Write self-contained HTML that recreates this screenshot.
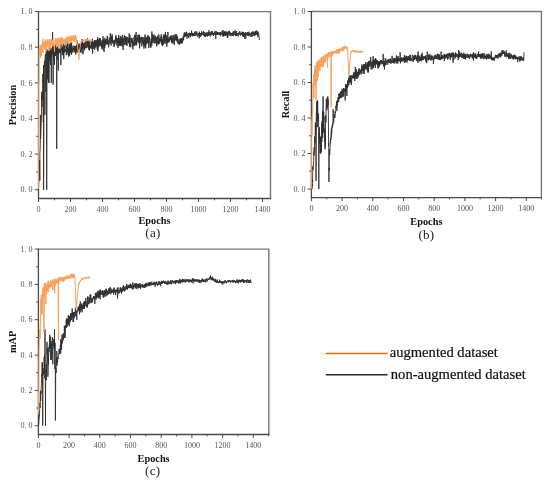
<!DOCTYPE html>
<html><head><meta charset="utf-8"><title>Training curves</title>
<style>
html,body{margin:0;padding:0;background:#fff;}
svg{display:block;filter:blur(0.4px);}
text{font-family:"Liberation Serif","DejaVu Serif",serif;}
.yt{font-size:8px;fill:#555;text-anchor:end;}
.xt{font-size:8px;fill:#555;text-anchor:middle;}
.ttl{font-size:10.3px;font-weight:bold;fill:#111;}
.lt{font-size:13px;fill:#222;letter-spacing:0.3px;}
.lg{font-size:14.6px;fill:#111;stroke:#111;stroke-width:0.2px;}
</style></head>
<body>
<svg width="550" height="482" viewBox="0 0 550 482">
<rect width="550" height="482" fill="#fff"/>
<path d="M38.5,11.6H270.5V198.5" fill="none" stroke="#787878" stroke-width="1.4"/>
<path d="M38.5,11.0V198.5H271.1" fill="none" stroke="#4a4a4a" stroke-width="1.3"/>
<line x1="34.8" y1="189.8" x2="38.5" y2="189.8" stroke="#4a4a4a" stroke-width="1"/>
<text x="32.6" y="192.4" class="yt">0. 0</text>
<line x1="36.3" y1="171.9" x2="38.5" y2="171.9" stroke="#4a4a4a" stroke-width="1"/>
<line x1="34.8" y1="154.1" x2="38.5" y2="154.1" stroke="#4a4a4a" stroke-width="1"/>
<text x="32.6" y="156.8" class="yt">0. 2</text>
<line x1="36.3" y1="136.3" x2="38.5" y2="136.3" stroke="#4a4a4a" stroke-width="1"/>
<line x1="34.8" y1="118.5" x2="38.5" y2="118.5" stroke="#4a4a4a" stroke-width="1"/>
<text x="32.6" y="121.1" class="yt">0. 4</text>
<line x1="36.3" y1="100.7" x2="38.5" y2="100.7" stroke="#4a4a4a" stroke-width="1"/>
<line x1="34.8" y1="82.9" x2="38.5" y2="82.9" stroke="#4a4a4a" stroke-width="1"/>
<text x="32.6" y="85.5" class="yt">0. 6</text>
<line x1="36.3" y1="65.0" x2="38.5" y2="65.0" stroke="#4a4a4a" stroke-width="1"/>
<line x1="34.8" y1="47.2" x2="38.5" y2="47.2" stroke="#4a4a4a" stroke-width="1"/>
<text x="32.6" y="49.9" class="yt">0. 8</text>
<line x1="36.3" y1="29.4" x2="38.5" y2="29.4" stroke="#4a4a4a" stroke-width="1"/>
<line x1="34.8" y1="11.6" x2="38.5" y2="11.6" stroke="#4a4a4a" stroke-width="1"/>
<text x="32.6" y="14.2" class="yt">1. 0</text>
<line x1="38.5" y1="198.5" x2="38.5" y2="202.0" stroke="#4a4a4a" stroke-width="1"/>
<text x="38.5" y="211.7" class="xt">0</text>
<line x1="54.5" y1="198.5" x2="54.5" y2="200.3" stroke="#4a4a4a" stroke-width="1"/>
<line x1="70.5" y1="198.5" x2="70.5" y2="202.0" stroke="#4a4a4a" stroke-width="1"/>
<text x="70.5" y="211.7" class="xt">200</text>
<line x1="86.5" y1="198.5" x2="86.5" y2="200.3" stroke="#4a4a4a" stroke-width="1"/>
<line x1="102.5" y1="198.5" x2="102.5" y2="202.0" stroke="#4a4a4a" stroke-width="1"/>
<text x="102.5" y="211.7" class="xt">400</text>
<line x1="118.5" y1="198.5" x2="118.5" y2="200.3" stroke="#4a4a4a" stroke-width="1"/>
<line x1="134.5" y1="198.5" x2="134.5" y2="202.0" stroke="#4a4a4a" stroke-width="1"/>
<text x="134.5" y="211.7" class="xt">600</text>
<line x1="150.5" y1="198.5" x2="150.5" y2="200.3" stroke="#4a4a4a" stroke-width="1"/>
<line x1="166.5" y1="198.5" x2="166.5" y2="202.0" stroke="#4a4a4a" stroke-width="1"/>
<text x="166.5" y="211.7" class="xt">800</text>
<line x1="182.5" y1="198.5" x2="182.5" y2="200.3" stroke="#4a4a4a" stroke-width="1"/>
<line x1="198.5" y1="198.5" x2="198.5" y2="202.0" stroke="#4a4a4a" stroke-width="1"/>
<text x="198.5" y="211.7" class="xt">1000</text>
<line x1="214.5" y1="198.5" x2="214.5" y2="200.3" stroke="#4a4a4a" stroke-width="1"/>
<line x1="230.5" y1="198.5" x2="230.5" y2="202.0" stroke="#4a4a4a" stroke-width="1"/>
<text x="230.5" y="211.7" class="xt">1200</text>
<line x1="246.5" y1="198.5" x2="246.5" y2="200.3" stroke="#4a4a4a" stroke-width="1"/>
<line x1="262.5" y1="198.5" x2="262.5" y2="202.0" stroke="#4a4a4a" stroke-width="1"/>
<text x="262.5" y="211.7" class="xt">1400</text>
<text x="154.5" y="224.2" class="ttl" text-anchor="middle">Epochs</text>
<text x="153.0" y="237.4" class="lt" text-anchor="middle">(a)</text>
<text transform="translate(16.0,105.0) rotate(-90)" class="ttl" text-anchor="middle">Precision</text>
<polyline fill="none" stroke="#2f2f2f" stroke-width="0.9" stroke-linejoin="round" points="38.5,188.9 38.7,184.0 38.8,180.6 39.0,179.2 39.1,170.5 39.3,167.6 39.5,165.8 39.6,160.2 39.8,180.8 39.9,153.4 40.1,150.5 40.3,145.7 40.4,114.9 40.6,139.1 40.7,135.7 40.9,129.9 41.1,126.8 41.2,123.3 41.4,120.6 41.5,115.1 41.7,91.8 41.9,107.0 42.0,100.2 42.2,96.8 42.3,99.5 42.5,97.2 42.7,89.7 42.8,74.0 43.0,82.3 43.1,80.1 43.3,122.1 43.5,65.0 43.6,189.8 43.8,136.3 43.9,67.5 44.1,65.9 44.3,66.7 44.4,61.5 44.6,62.0 44.7,60.6 44.9,114.9 45.1,59.5 45.2,56.4 45.4,54.4 45.5,55.9 45.7,54.8 45.9,91.8 46.0,57.4 46.2,52.2 46.3,50.7 46.5,50.8 46.7,189.8 46.8,145.2 47.0,55.1 47.1,49.4 47.3,56.7 47.5,79.3 47.6,52.6 47.8,57.2 47.9,53.6 48.1,50.8 48.3,51.2 48.4,82.9 48.6,56.4 48.7,51.4 48.9,82.9 49.1,79.3 49.2,49.1 49.4,60.4 49.5,50.9 49.7,47.1 49.9,52.9 50.0,54.8 50.2,48.8 50.3,50.6 50.5,65.0 50.7,52.8 50.8,57.1 51.0,51.8 51.1,53.0 51.3,82.9 51.5,50.5 51.6,57.3 51.8,55.6 51.9,47.8 52.1,48.5 52.3,54.2 52.4,50.9 52.6,32.1 52.7,49.1 52.9,47.5 53.1,84.6 53.2,79.3 53.4,52.0 53.5,45.4 53.7,60.7 53.9,51.4 54.0,50.5 54.2,57.7 54.3,49.4 54.5,65.0 54.7,47.4 54.8,51.1 55.0,48.0 55.1,44.4 55.3,48.6 55.5,53.6 55.6,56.0 55.8,41.7 55.9,50.8 56.1,53.7 56.3,49.8 56.4,51.0 56.6,47.2 56.7,148.8 56.9,50.2 57.1,53.7 57.2,48.5 57.4,53.9 57.5,47.7 57.7,44.6 57.9,55.6 58.0,59.8 58.2,47.8 58.3,70.4 58.5,53.6 58.7,54.5 58.8,47.9 59.0,52.9 59.1,51.7 59.3,51.1 59.5,48.0 59.6,51.3 59.8,48.9 59.9,50.5 60.1,52.8 60.3,51.0 60.4,53.2 60.6,49.8 60.7,53.8 60.9,65.0 61.1,42.8 61.2,49.9 61.4,49.9 61.5,47.9 61.7,51.2 61.9,50.5 62.0,48.2 62.2,48.7 62.3,55.2 62.5,46.7 62.7,51.7 62.8,53.4 63.0,52.8 63.1,51.0 63.3,43.8 63.5,55.2 63.6,49.0 63.8,59.1 63.9,49.5 64.1,46.3 64.3,50.3 64.4,52.5 64.6,48.7 64.7,47.0 64.9,47.1 65.1,42.5 65.2,48.7 65.4,51.5 65.5,49.9 65.7,49.7 65.9,49.0 66.0,49.5 66.2,48.7 66.3,55.2 66.5,46.4 66.7,51.3 66.8,53.4 67.0,47.0 67.1,43.0 67.3,47.5 67.5,48.5 67.6,52.5 67.8,42.2 67.9,45.0 68.1,54.6 68.3,51.9 68.4,48.8 68.6,56.6 68.7,48.6 68.9,50.8 69.1,44.8 69.2,44.5 69.4,56.1 69.5,48.9 69.7,54.8 69.9,43.8 70.0,48.3 70.2,47.1 70.3,52.8 70.5,42.6 70.7,41.9 70.8,52.7 71.0,47.1 71.1,51.2 71.3,48.9 71.5,54.7 71.6,42.1 71.8,53.2 71.9,50.0 72.1,46.2 72.3,50.8 72.4,49.3 72.6,51.1 72.7,48.9 72.9,52.4 73.1,49.8 73.2,49.0 73.4,49.4 73.5,48.0 73.7,49.1 73.9,45.4 74.0,49.2 74.2,48.5 74.3,50.3 74.5,50.4 74.7,52.3 74.8,46.0 75.0,51.8 75.1,50.3 75.3,46.4 75.5,46.2 75.6,49.0 75.8,54.5 75.9,46.0 76.1,46.5 76.3,52.3 76.4,44.7 76.6,49.8 76.7,51.2 76.9,46.9 77.1,47.8 77.2,46.2 77.4,52.7 77.5,40.7 77.7,49.1 77.9,52.3 78.0,44.8 78.2,48.1 78.3,45.7 78.5,48.0 78.7,46.9 78.8,45.8 79.0,50.2 79.1,43.4 79.3,48.2 79.5,49.5 79.6,46.2 79.8,44.9 79.9,47.2 80.1,49.3 80.3,44.2 80.4,52.4 80.6,49.8 80.7,46.1 80.9,50.9 81.1,46.1 81.2,46.4 81.4,43.0 81.5,49.3 81.7,48.3 81.9,44.9 82.0,53.0 82.2,39.1 82.3,48.4 82.5,48.5 82.7,42.9 82.8,46.0 83.0,54.2 83.1,42.9 83.3,42.9 83.5,47.4 83.6,46.8 83.8,43.5 83.9,48.9 84.1,44.2 84.3,44.7 84.4,48.0 84.6,50.4 84.7,46.4 84.9,48.6 85.1,42.1 85.2,45.0 85.4,41.9 85.5,45.0 85.7,44.2 85.9,48.1 86.0,43.1 86.2,39.2 86.3,46.4 86.5,48.1 86.7,46.0 86.8,46.9 87.0,47.7 87.1,44.7 87.3,46.2 87.5,38.5 87.6,45.1 87.8,44.0 87.9,40.7 88.1,46.1 88.3,40.1 88.4,47.2 88.6,48.7 88.7,46.2 88.9,45.3 89.1,49.7 89.2,45.1 89.4,50.6 89.5,40.1 89.7,45.1 89.9,47.0 90.0,47.9 90.2,46.1 90.3,45.5 90.5,48.3 90.7,47.8 90.8,45.3 91.0,46.4 91.1,41.4 91.3,40.7 91.5,44.5 91.6,42.9 91.8,49.1 91.9,42.3 92.1,44.6 92.3,42.8 92.4,38.9 92.6,53.6 92.7,43.5 92.9,48.1 93.1,42.3 93.2,48.8 93.4,46.0 93.5,43.6 93.7,42.1 93.9,44.0 94.0,46.9 94.2,46.1 94.3,40.1 94.5,44.1 94.7,49.9 94.8,41.2 95.0,42.6 95.1,40.0 95.3,45.6 95.5,41.2 95.6,47.6 95.8,42.0 95.9,45.6 96.1,41.6 96.3,40.5 96.4,46.4 96.6,44.0 96.7,43.6 96.9,39.7 97.1,41.4 97.2,49.4 97.4,42.2 97.5,40.3 97.7,36.9 97.9,51.4 98.0,45.5 98.2,39.1 98.3,48.2 98.5,47.7 98.7,41.2 98.8,40.1 99.0,45.8 99.1,41.7 99.3,42.9 99.5,38.3 99.6,43.4 99.8,40.0 99.9,46.4 100.1,44.0 100.3,43.7 100.4,38.1 100.6,41.3 100.7,45.8 100.9,40.9 101.1,40.6 101.2,43.6 101.4,44.4 101.5,43.8 101.7,48.9 101.9,42.5 102.0,42.3 102.2,47.0 102.3,40.5 102.5,47.7 102.7,45.5 102.8,44.6 103.0,36.2 103.1,50.2 103.3,41.0 103.5,39.7 103.6,41.6 103.8,38.9 103.9,46.2 104.1,51.9 104.3,40.2 104.4,46.8 104.6,43.9 104.7,48.1 104.9,37.9 105.1,39.8 105.2,45.9 105.4,39.6 105.5,42.2 105.7,43.1 105.9,42.4 106.0,43.3 106.2,40.5 106.3,41.5 106.5,43.7 106.7,39.1 106.8,44.6 107.0,41.2 107.1,40.6 107.3,35.8 107.5,44.1 107.6,36.6 107.8,41.8 107.9,43.1 108.1,44.6 108.3,40.4 108.4,42.2 108.6,47.3 108.7,46.1 108.9,44.2 109.1,44.6 109.2,38.7 109.4,37.7 109.5,39.4 109.7,41.1 109.9,43.7 110.0,42.1 110.2,39.3 110.3,33.2 110.5,39.2 110.7,43.1 110.8,42.0 111.0,43.8 111.1,45.7 111.3,42.7 111.5,41.2 111.6,36.0 111.8,41.9 111.9,37.6 112.1,34.2 112.3,41.7 112.4,36.7 112.6,39.7 112.7,43.4 112.9,41.1 113.1,41.9 113.2,43.0 113.4,42.6 113.5,41.5 113.7,40.5 113.9,44.8 114.0,41.9 114.2,46.9 114.3,40.7 114.5,39.8 114.7,41.3 114.8,40.9 115.0,39.9 115.1,44.0 115.3,42.6 115.5,40.1 115.6,37.3 115.8,40.5 115.9,35.2 116.1,42.0 116.3,38.4 116.4,37.5 116.6,42.3 116.7,44.4 116.9,45.5 117.1,41.1 117.2,38.0 117.4,40.7 117.5,41.0 117.7,43.3 117.9,39.7 118.0,48.1 118.2,40.5 118.3,41.5 118.5,46.0 118.7,35.0 118.8,46.0 119.0,45.0 119.1,45.4 119.3,37.9 119.5,44.4 119.6,39.3 119.8,39.6 119.9,40.6 120.1,45.7 120.3,44.1 120.4,36.0 120.6,45.6 120.7,44.1 120.9,41.9 121.1,38.8 121.2,40.6 121.4,39.0 121.5,44.9 121.7,37.3 121.9,39.5 122.0,46.5 122.2,36.4 122.3,34.9 122.5,43.8 122.7,41.2 122.8,36.8 123.0,47.8 123.1,50.0 123.3,45.5 123.5,43.8 123.6,43.2 123.8,38.6 123.9,40.4 124.1,45.3 124.3,38.8 124.4,35.2 124.6,37.4 124.7,36.9 124.9,41.2 125.1,37.0 125.2,44.3 125.4,38.0 125.5,41.5 125.7,36.3 125.9,39.2 126.0,44.7 126.2,40.8 126.3,37.3 126.5,44.8 126.7,43.0 126.8,44.5 127.0,45.9 127.1,38.1 127.3,36.9 127.5,38.6 127.6,40.3 127.8,41.3 127.9,40.3 128.1,43.4 128.3,38.2 128.4,37.7 128.6,38.1 128.7,42.8 128.9,40.7 129.1,41.8 129.2,33.4 129.4,40.5 129.5,47.0 129.7,39.8 129.9,35.0 130.0,38.8 130.2,38.2 130.3,40.9 130.5,47.3 130.7,46.7 130.8,46.3 131.0,41.4 131.1,40.0 131.3,38.8 131.5,42.0 131.6,37.9 131.8,41.8 131.9,43.2 132.1,38.2 132.3,43.8 132.4,47.2 132.6,44.3 132.7,40.5 132.9,49.4 133.1,42.4 133.2,41.9 133.4,45.4 133.5,45.5 133.7,42.8 133.9,43.2 134.0,36.9 134.2,39.7 134.3,45.8 134.5,43.5 134.7,38.6 134.8,34.8 135.0,39.6 135.1,39.8 135.3,34.9 135.5,40.8 135.6,41.7 135.8,45.2 135.9,42.9 136.1,32.2 136.3,45.2 136.4,40.7 136.6,45.1 136.7,40.3 136.9,37.9 137.1,41.4 137.2,38.4 137.4,38.4 137.5,39.2 137.7,35.2 137.9,38.2 138.0,41.5 138.2,42.7 138.3,43.2 138.5,38.5 138.7,41.5 138.8,34.3 139.0,34.8 139.1,41.2 139.3,41.9 139.5,35.2 139.6,48.4 139.8,41.9 139.9,36.5 140.1,43.3 140.3,41.9 140.4,41.5 140.6,38.4 140.7,39.8 140.9,39.1 141.1,38.5 141.2,40.3 141.4,36.9 141.5,42.6 141.7,46.3 141.9,45.8 142.0,45.3 142.2,42.0 142.3,37.1 142.5,39.7 142.7,42.1 142.8,43.6 143.0,41.9 143.1,41.5 143.3,42.0 143.5,44.6 143.6,42.2 143.8,37.1 143.9,48.5 144.1,41.2 144.3,46.3 144.4,39.6 144.6,42.4 144.7,46.3 144.9,39.7 145.1,34.5 145.2,39.8 145.4,36.5 145.5,40.3 145.7,48.3 145.9,38.0 146.0,41.3 146.2,44.5 146.3,37.6 146.5,39.1 146.7,41.6 146.8,37.3 147.0,42.6 147.1,38.0 147.3,42.8 147.5,38.3 147.6,43.3 147.8,35.4 147.9,39.1 148.1,35.5 148.3,43.3 148.4,41.8 148.6,37.3 148.7,48.1 148.9,43.1 149.1,36.7 149.2,38.4 149.4,36.9 149.5,41.1 149.7,38.1 149.9,42.0 150.0,43.9 150.2,46.7 150.3,42.0 150.5,41.4 150.7,41.6 150.8,47.9 151.0,45.8 151.1,41.3 151.3,38.8 151.5,42.1 151.6,42.3 151.8,45.7 151.9,31.5 152.1,43.0 152.3,34.6 152.4,34.9 152.6,38.8 152.7,41.3 152.9,39.2 153.1,43.1 153.2,38.8 153.4,39.6 153.5,38.0 153.7,36.7 153.9,34.4 154.0,40.7 154.2,36.4 154.3,41.9 154.5,43.1 154.7,41.4 154.8,43.5 155.0,36.6 155.1,36.7 155.3,35.7 155.5,39.6 155.6,38.4 155.8,41.2 155.9,42.9 156.1,37.6 156.3,38.6 156.4,43.9 156.6,37.1 156.7,46.4 156.9,40.1 157.1,41.3 157.2,41.5 157.4,43.7 157.5,36.5 157.7,37.7 157.9,35.8 158.0,38.8 158.2,44.5 158.3,40.8 158.5,44.1 158.7,38.0 158.8,34.5 159.0,38.3 159.1,41.1 159.3,40.8 159.5,38.5 159.6,43.6 159.8,38.8 159.9,38.7 160.1,40.9 160.3,40.5 160.4,38.7 160.6,41.7 160.7,41.7 160.9,36.9 161.1,38.3 161.2,34.3 161.4,42.1 161.5,44.4 161.7,36.4 161.9,36.4 162.0,42.1 162.2,45.0 162.3,39.3 162.5,46.1 162.7,40.5 162.8,44.9 163.0,39.8 163.1,44.9 163.3,39.8 163.5,34.7 163.6,39.9 163.8,36.9 163.9,41.0 164.1,41.7 164.3,43.5 164.4,36.0 164.6,39.2 164.7,34.3 164.9,42.5 165.1,39.7 165.2,38.8 165.4,34.9 165.5,31.9 165.7,40.9 165.9,42.3 166.0,44.1 166.2,35.1 166.3,39.3 166.5,40.9 166.7,39.1 166.8,46.7 167.0,44.0 167.1,36.3 167.3,37.8 167.5,38.5 167.6,42.9 167.8,37.2 167.9,32.0 168.1,42.5 168.3,38.9 168.4,40.2 168.6,37.9 168.7,38.8 168.9,39.3 169.1,42.4 169.2,38.9 169.4,40.6 169.5,39.3 169.7,39.0 169.9,37.0 170.0,40.5 170.2,39.8 170.3,35.8 170.5,39.5 170.7,40.0 170.8,36.4 171.0,37.9 171.1,38.7 171.3,38.2 171.5,42.5 171.6,37.3 171.8,35.2 171.9,37.3 172.1,43.5 172.3,38.2 172.4,41.6 172.6,39.7 172.7,38.6 172.9,42.5 173.1,35.3 173.2,39.3 173.4,36.8 173.5,37.3 173.7,35.3 173.9,35.7 174.0,43.4 174.2,39.0 174.3,44.8 174.5,40.9 174.7,37.2 174.8,36.7 175.0,34.4 175.1,40.3 175.3,38.4 175.5,39.0 175.6,35.9 175.8,35.1 175.9,40.2 176.1,34.1 176.3,39.4 176.4,40.5 176.6,37.7 176.7,37.4 176.9,38.7 177.1,41.7 177.2,35.6 177.4,40.3 177.5,37.0 177.7,37.5 177.9,43.7 178.0,43.2 178.2,43.3 178.3,40.7 178.5,41.3 178.7,41.0 178.8,43.4 179.0,40.9 179.1,39.1 179.3,44.8 179.5,42.6 179.6,41.9 179.8,42.8 179.9,43.0 180.1,38.4 180.3,40.3 180.4,40.4 180.6,43.6 180.7,38.6 180.9,41.3 181.1,42.7 181.2,42.1 181.4,42.2 181.5,38.0 181.7,40.7 181.9,40.7 182.0,43.7 182.2,39.4 182.3,41.8 182.5,42.3 182.7,38.5 182.8,40.4 183.0,37.5 183.1,36.6 183.3,40.3 183.5,37.5 183.6,39.8 183.8,36.4 183.9,34.5 184.1,37.3 184.3,32.3 184.4,34.9 184.6,36.1 184.7,34.6 184.9,33.3 185.1,36.4 185.2,34.4 185.4,36.4 185.5,32.7 185.7,34.2 185.9,35.2 186.0,32.9 186.2,36.2 186.3,34.9 186.5,31.8 186.7,34.5 186.8,32.4 187.0,38.7 187.1,35.7 187.3,34.7 187.5,34.2 187.6,34.9 187.8,35.5 187.9,35.4 188.1,36.4 188.3,34.2 188.4,33.6 188.6,33.3 188.7,37.8 188.9,33.2 189.1,34.3 189.2,36.3 189.4,34.1 189.5,32.8 189.7,33.6 189.9,32.9 190.0,33.0 190.2,33.0 190.3,34.4 190.5,37.1 190.7,35.7 190.8,33.6 191.0,34.9 191.1,33.3 191.3,33.1 191.5,34.2 191.6,30.7 191.8,35.6 191.9,32.9 192.1,34.9 192.3,35.7 192.4,33.4 192.6,35.1 192.7,33.0 192.9,36.4 193.1,34.2 193.2,35.4 193.4,34.5 193.5,34.7 193.7,35.8 193.9,33.3 194.0,35.9 194.2,35.6 194.3,32.9 194.5,32.3 194.7,32.9 194.8,33.7 195.0,31.3 195.1,35.8 195.3,35.2 195.5,35.5 195.6,32.9 195.8,33.7 195.9,32.6 196.1,32.8 196.3,34.4 196.4,35.3 196.6,35.5 196.7,31.3 196.9,32.3 197.1,33.3 197.2,34.6 197.4,34.4 197.5,34.6 197.7,34.5 197.9,36.8 198.0,34.2 198.2,34.8 198.3,33.7 198.5,33.8 198.7,32.9 198.8,34.1 199.0,32.9 199.1,36.8 199.3,38.3 199.5,31.7 199.6,35.7 199.8,34.4 199.9,33.1 200.1,35.3 200.3,33.0 200.4,36.0 200.6,36.7 200.7,35.9 200.9,36.3 201.1,34.0 201.2,34.6 201.4,33.5 201.5,35.4 201.7,31.2 201.9,34.1 202.0,34.1 202.2,33.4 202.3,34.3 202.5,34.8 202.7,33.8 202.8,32.7 203.0,33.0 203.1,32.7 203.3,34.7 203.5,35.4 203.6,31.2 203.8,34.3 203.9,33.3 204.1,32.9 204.3,32.0 204.4,36.4 204.6,34.6 204.7,34.5 204.9,34.3 205.1,36.7 205.2,34.0 205.4,36.6 205.5,33.5 205.7,33.2 205.9,32.8 206.0,35.5 206.2,32.6 206.3,35.5 206.5,35.6 206.7,35.7 206.8,35.0 207.0,33.6 207.1,32.7 207.3,36.6 207.5,34.6 207.6,32.6 207.8,33.6 207.9,33.1 208.1,35.9 208.3,32.5 208.4,36.0 208.6,33.6 208.7,32.0 208.9,30.3 209.1,32.9 209.2,32.6 209.4,34.6 209.5,34.7 209.7,32.2 209.9,33.8 210.0,34.0 210.2,36.4 210.3,33.6 210.5,32.9 210.7,34.9 210.8,34.5 211.0,31.6 211.1,33.4 211.3,34.3 211.5,35.3 211.6,34.6 211.8,34.2 211.9,31.2 212.1,34.6 212.3,31.3 212.4,35.0 212.6,34.4 212.7,32.6 212.9,34.2 213.1,34.8 213.2,33.9 213.4,33.1 213.5,36.0 213.7,34.0 213.9,33.9 214.0,34.2 214.2,32.7 214.3,34.5 214.5,34.4 214.7,33.6 214.8,32.7 215.0,34.0 215.1,30.9 215.3,34.9 215.5,32.0 215.6,35.3 215.8,38.7 215.9,33.2 216.1,31.0 216.3,32.5 216.4,34.2 216.6,31.9 216.7,34.1 216.9,34.8 217.1,33.1 217.2,33.6 217.4,32.0 217.5,34.7 217.7,33.0 217.9,32.8 218.0,33.3 218.2,33.7 218.3,34.6 218.5,32.5 218.7,33.5 218.8,33.0 219.0,34.2 219.1,33.7 219.3,35.1 219.5,33.5 219.6,32.7 219.8,33.6 219.9,32.5 220.1,33.1 220.3,31.9 220.4,33.9 220.6,35.9 220.7,33.1 220.9,33.9 221.1,35.0 221.2,32.5 221.4,33.3 221.5,33.1 221.7,34.1 221.9,33.4 222.0,33.4 222.2,30.5 222.3,34.6 222.5,33.7 222.7,33.2 222.8,36.0 223.0,36.6 223.1,30.1 223.3,36.0 223.5,32.9 223.6,34.8 223.8,34.7 223.9,36.3 224.1,35.3 224.3,32.6 224.4,35.5 224.6,32.9 224.7,33.3 224.9,31.0 225.1,34.3 225.2,32.0 225.4,32.5 225.5,34.1 225.7,35.9 225.9,31.7 226.0,35.5 226.2,34.5 226.3,32.5 226.5,31.7 226.7,34.8 226.8,33.7 227.0,34.0 227.1,32.1 227.3,38.0 227.5,36.1 227.6,32.5 227.8,37.3 227.9,33.7 228.1,35.2 228.3,31.1 228.4,33.5 228.6,34.7 228.7,34.4 228.9,34.5 229.1,33.4 229.2,33.9 229.4,32.8 229.5,30.9 229.7,32.8 229.9,35.3 230.0,35.8 230.2,34.7 230.3,32.3 230.5,34.1 230.7,34.6 230.8,33.5 231.0,36.2 231.1,35.2 231.3,33.1 231.5,34.1 231.6,34.3 231.8,33.3 231.9,34.5 232.1,34.7 232.3,34.4 232.4,32.7 232.6,33.7 232.7,35.9 232.9,34.2 233.1,32.7 233.2,31.4 233.4,35.8 233.5,33.4 233.7,34.2 233.9,32.8 234.0,33.3 234.2,31.3 234.3,33.2 234.5,34.6 234.7,34.8 234.8,33.4 235.0,33.4 235.1,30.4 235.3,30.9 235.5,36.0 235.6,33.5 235.8,35.7 235.9,36.1 236.1,33.0 236.3,33.2 236.4,35.8 236.6,31.1 236.7,35.2 236.9,36.0 237.1,33.1 237.2,33.6 237.4,34.3 237.5,34.1 237.7,33.7 237.9,34.2 238.0,34.3 238.2,36.5 238.3,36.4 238.5,33.3 238.7,35.0 238.8,33.1 239.0,32.5 239.1,34.5 239.3,33.7 239.5,31.5 239.6,33.2 239.8,31.7 239.9,31.4 240.1,33.1 240.3,34.3 240.4,35.2 240.6,35.6 240.7,33.5 240.9,33.5 241.1,34.5 241.2,33.1 241.4,35.0 241.5,32.7 241.7,34.1 241.9,34.2 242.0,34.2 242.2,34.3 242.3,31.6 242.5,36.3 242.7,34.0 242.8,32.6 243.0,33.3 243.1,34.6 243.3,32.0 243.5,35.6 243.6,36.5 243.8,33.5 243.9,36.2 244.1,36.9 244.3,33.2 244.4,33.3 244.6,33.0 244.7,35.0 244.9,39.0 245.1,35.6 245.2,32.1 245.4,33.3 245.5,33.1 245.7,36.9 245.9,38.3 246.0,32.5 246.2,32.8 246.3,33.4 246.5,34.4 246.7,35.0 246.8,33.6 247.0,33.9 247.1,34.1 247.3,34.8 247.5,32.2 247.6,35.8 247.8,34.4 247.9,35.3 248.1,33.0 248.3,32.5 248.4,32.1 248.6,33.0 248.7,36.1 248.9,31.7 249.1,33.4 249.2,34.4 249.4,34.2 249.5,34.7 249.7,33.7 249.9,33.8 250.0,34.7 250.2,36.7 250.3,34.2 250.5,33.6 250.7,33.3 250.8,34.3 251.0,33.6 251.1,32.8 251.3,34.9 251.5,32.2 251.6,36.6 251.8,35.7 251.9,35.2 252.1,36.6 252.3,35.3 252.4,32.5 252.6,32.5 252.7,33.9 252.9,31.1 253.1,33.7 253.2,34.6 253.4,33.7 253.5,34.2 253.7,32.7 253.9,35.9 254.0,32.7 254.2,34.7 254.3,32.5 254.5,35.9 254.7,34.6 254.8,33.8 255.0,32.8 255.1,35.4 255.3,31.0 255.5,33.3 255.6,34.5 255.8,32.3 255.9,33.7 256.1,32.4 256.3,30.4 256.4,32.5 256.6,34.5 256.7,34.5 256.9,32.8 257.1,33.4 257.2,34.8 257.4,34.6 257.5,32.9 257.7,31.2 257.9,37.1 258.0,32.8 258.2,34.0 258.3,32.7 258.5,32.6 258.7,33.6 258.8,35.4 259.0,35.4 259.1,36.9 259.3,40.1"/>
<polyline fill="none" stroke="#f8a25c" stroke-width="1.0" stroke-linejoin="round" points="38.5,188.7 38.7,109.6 38.8,81.5 39.0,82.9 39.1,53.5 39.3,48.6 39.5,55.1 39.6,48.7 39.8,50.3 39.9,53.5 40.1,45.2 40.3,51.1 40.4,57.9 40.6,52.8 40.7,46.9 40.9,49.2 41.1,46.1 41.2,50.9 41.4,56.1 41.5,51.6 41.7,44.0 41.9,46.5 42.0,45.7 42.2,45.2 42.3,50.6 42.5,43.3 42.7,39.3 42.8,52.6 43.0,52.8 43.1,51.8 43.3,42.9 43.5,45.6 43.6,42.0 43.8,43.3 43.9,45.1 44.1,44.8 44.3,46.4 44.4,42.6 44.6,49.7 44.7,48.9 44.9,44.7 45.1,39.3 45.2,48.1 45.4,49.1 45.5,47.3 45.7,42.1 45.9,46.0 46.0,40.9 46.2,51.2 46.3,41.5 46.5,41.8 46.7,49.4 46.8,44.5 47.0,41.2 47.1,44.6 47.3,41.8 47.5,39.4 47.6,43.9 47.8,45.5 47.9,46.8 48.1,40.5 48.3,45.1 48.4,45.0 48.6,44.7 48.7,42.6 48.9,51.0 49.1,48.6 49.2,49.9 49.4,39.2 49.5,43.8 49.7,40.0 49.9,44.2 50.0,46.1 50.2,42.7 50.3,44.2 50.5,47.4 50.7,46.4 50.8,39.1 51.0,42.9 51.1,42.7 51.3,44.5 51.5,45.6 51.6,38.9 51.8,44.0 51.9,45.7 52.1,44.0 52.3,46.0 52.4,42.4 52.6,40.5 52.7,45.6 52.9,39.7 53.1,45.1 53.2,42.9 53.4,45.5 53.5,43.8 53.7,43.1 53.9,44.3 54.0,47.1 54.2,44.8 54.3,47.7 54.5,51.8 54.7,43.7 54.8,41.9 55.0,40.6 55.1,41.3 55.3,38.3 55.5,42.0 55.6,43.9 55.8,38.3 55.9,45.3 56.1,40.3 56.3,45.0 56.4,41.7 56.6,47.3 56.7,40.3 56.9,42.8 57.1,44.8 57.2,38.3 57.4,40.5 57.5,42.2 57.7,46.2 57.9,42.3 58.0,42.6 58.2,40.4 58.3,38.0 58.5,43.6 58.7,43.3 58.8,44.7 59.0,48.9 59.1,43.3 59.3,42.1 59.5,40.3 59.6,38.8 59.8,43.6 59.9,40.5 60.1,42.7 60.3,37.5 60.4,41.7 60.6,40.4 60.7,43.7 60.9,43.3 61.1,41.0 61.2,42.3 61.4,40.6 61.5,44.9 61.7,38.1 61.9,43.3 62.0,37.4 62.2,41.8 62.3,37.2 62.5,44.2 62.7,40.1 62.8,43.0 63.0,43.4 63.1,40.9 63.3,41.6 63.5,40.3 63.6,39.2 63.8,39.4 63.9,41.2 64.1,43.7 64.3,42.4 64.4,41.1 64.6,44.9 64.7,39.0 64.9,41.7 65.1,41.0 65.2,38.5 65.4,39.0 65.5,39.9 65.7,45.0 65.9,39.7 66.0,39.6 66.2,42.1 66.3,38.0 66.5,39.1 66.7,44.2 66.8,39.8 67.0,42.7 67.1,37.7 67.3,36.3 67.5,42.2 67.6,41.7 67.8,39.7 67.9,40.3 68.1,36.7 68.3,38.3 68.4,40.3 68.6,38.5 68.7,43.6 68.9,39.0 69.1,37.8 69.2,39.9 69.4,40.9 69.5,38.3 69.7,35.9 69.9,39.0 70.0,41.5 70.2,36.5 70.3,42.9 70.5,38.2 70.7,40.3 70.8,37.4 71.0,40.8 71.1,36.6 71.3,38.5 71.5,42.3 71.6,42.8 71.8,39.6 71.9,35.5 72.1,38.7 72.3,38.8 72.4,39.3 72.6,37.4 72.7,37.2 72.9,38.2 73.1,40.6 73.2,36.5 73.4,36.2 73.5,41.0 73.7,35.3 73.9,37.3 74.0,40.5 74.2,42.0 74.3,37.3 74.5,37.5 74.7,39.5 74.8,41.6 75.0,35.2 75.1,39.4 75.3,39.2 75.5,35.3 75.6,35.5 75.8,37.0 75.9,39.2 76.1,37.7 76.3,44.1 76.4,38.6 76.6,39.6 76.7,40.1 76.9,42.0 77.1,40.1 77.2,42.2 77.4,43.7 77.5,45.0 77.7,48.1 77.9,50.1 78.0,52.2 78.2,52.7 78.3,53.4 78.5,55.7 78.7,56.7 78.8,59.6 79.0,57.5 79.1,56.1 79.3,54.8 79.5,51.3 79.6,50.3 79.8,50.0 79.9,48.8 80.1,47.2 80.3,46.7 80.4,44.2 80.6,44.1 80.7,42.4 80.9,41.5 81.1,41.2 81.2,41.6 81.4,41.7 81.5,41.4 81.7,41.6 81.9,41.1 82.0,40.7 82.2,39.9 82.3,40.2 82.5,40.8 82.7,40.2 82.8,40.9 83.0,39.8 83.1,40.2 83.3,41.2 83.5,40.0 83.6,40.0 83.8,41.4 83.9,40.7 84.1,40.5 84.3,41.3 84.4,40.8 84.6,40.7 84.7,39.9 84.9,39.9 85.1,39.1 85.2,40.3 85.4,39.5 85.5,40.1 85.7,40.0 85.9,40.8 86.0,41.2 86.2,40.6 86.3,39.8 86.5,39.3 86.7,39.9 86.8,39.9 87.0,40.7 87.1,39.4 87.3,39.5 87.5,40.5 87.6,40.3 87.8,40.8 87.9,39.5 88.1,40.0 88.3,40.3 88.4,40.1 88.6,40.0 88.7,40.5 88.9,41.0 89.1,41.0 89.2,41.2 89.4,40.1 89.5,39.4 89.7,41.2 89.9,40.3 90.0,40.1 90.2,40.9 90.3,40.3 90.5,41.0 90.7,39.7 90.8,40.7 91.0,40.3 91.1,40.0 91.3,40.6 91.5,41.4 91.6,40.7 91.8,40.0 91.9,40.5 92.1,40.3 92.3,41.0"/>
<path d="M311.4,11.5H541.4V197.6" fill="none" stroke="#787878" stroke-width="1.4"/>
<path d="M311.4,10.9V197.6H542.0" fill="none" stroke="#4a4a4a" stroke-width="1.3"/>
<line x1="307.7" y1="189.0" x2="311.4" y2="189.0" stroke="#4a4a4a" stroke-width="1"/>
<text x="305.5" y="191.7" class="yt">0. 0</text>
<line x1="309.2" y1="171.2" x2="311.4" y2="171.2" stroke="#4a4a4a" stroke-width="1"/>
<line x1="307.7" y1="153.5" x2="311.4" y2="153.5" stroke="#4a4a4a" stroke-width="1"/>
<text x="305.5" y="156.2" class="yt">0. 2</text>
<line x1="309.2" y1="135.8" x2="311.4" y2="135.8" stroke="#4a4a4a" stroke-width="1"/>
<line x1="307.7" y1="118.0" x2="311.4" y2="118.0" stroke="#4a4a4a" stroke-width="1"/>
<text x="305.5" y="120.7" class="yt">0. 4</text>
<line x1="309.2" y1="100.2" x2="311.4" y2="100.2" stroke="#4a4a4a" stroke-width="1"/>
<line x1="307.7" y1="82.5" x2="311.4" y2="82.5" stroke="#4a4a4a" stroke-width="1"/>
<text x="305.5" y="85.2" class="yt">0. 6</text>
<line x1="309.2" y1="64.8" x2="311.4" y2="64.8" stroke="#4a4a4a" stroke-width="1"/>
<line x1="307.7" y1="47.0" x2="311.4" y2="47.0" stroke="#4a4a4a" stroke-width="1"/>
<text x="305.5" y="49.6" class="yt">0. 8</text>
<line x1="309.2" y1="29.2" x2="311.4" y2="29.2" stroke="#4a4a4a" stroke-width="1"/>
<line x1="307.7" y1="11.5" x2="311.4" y2="11.5" stroke="#4a4a4a" stroke-width="1"/>
<text x="305.5" y="14.2" class="yt">1. 0</text>
<line x1="311.4" y1="197.6" x2="311.4" y2="201.1" stroke="#4a4a4a" stroke-width="1"/>
<text x="311.4" y="210.8" class="xt">0</text>
<line x1="326.8" y1="197.6" x2="326.8" y2="199.4" stroke="#4a4a4a" stroke-width="1"/>
<line x1="342.1" y1="197.6" x2="342.1" y2="201.1" stroke="#4a4a4a" stroke-width="1"/>
<text x="342.1" y="210.8" class="xt">200</text>
<line x1="357.4" y1="197.6" x2="357.4" y2="199.4" stroke="#4a4a4a" stroke-width="1"/>
<line x1="372.8" y1="197.6" x2="372.8" y2="201.1" stroke="#4a4a4a" stroke-width="1"/>
<text x="372.8" y="210.8" class="xt">400</text>
<line x1="388.1" y1="197.6" x2="388.1" y2="199.4" stroke="#4a4a4a" stroke-width="1"/>
<line x1="403.5" y1="197.6" x2="403.5" y2="201.1" stroke="#4a4a4a" stroke-width="1"/>
<text x="403.5" y="210.8" class="xt">600</text>
<line x1="418.8" y1="197.6" x2="418.8" y2="199.4" stroke="#4a4a4a" stroke-width="1"/>
<line x1="434.2" y1="197.6" x2="434.2" y2="201.1" stroke="#4a4a4a" stroke-width="1"/>
<text x="434.2" y="210.8" class="xt">800</text>
<line x1="449.5" y1="197.6" x2="449.5" y2="199.4" stroke="#4a4a4a" stroke-width="1"/>
<line x1="464.9" y1="197.6" x2="464.9" y2="201.1" stroke="#4a4a4a" stroke-width="1"/>
<text x="464.9" y="210.8" class="xt">1000</text>
<line x1="480.2" y1="197.6" x2="480.2" y2="199.4" stroke="#4a4a4a" stroke-width="1"/>
<line x1="495.6" y1="197.6" x2="495.6" y2="201.1" stroke="#4a4a4a" stroke-width="1"/>
<text x="495.6" y="210.8" class="xt">1200</text>
<line x1="510.9" y1="197.6" x2="510.9" y2="199.4" stroke="#4a4a4a" stroke-width="1"/>
<line x1="526.3" y1="197.6" x2="526.3" y2="201.1" stroke="#4a4a4a" stroke-width="1"/>
<text x="526.3" y="210.8" class="xt">1400</text>
<line x1="541.6" y1="197.6" x2="541.6" y2="199.4" stroke="#4a4a4a" stroke-width="1"/>
<text x="426.4" y="224.6" class="ttl" text-anchor="middle">Epochs</text>
<text x="426.45" y="238.8" class="lt" text-anchor="middle">(b)</text>
<text transform="translate(288.6,104.5) rotate(-90)" class="ttl" text-anchor="middle">Recall</text>
<polyline fill="none" stroke="#2f2f2f" stroke-width="0.9" stroke-linejoin="round" points="311.4,184.7 311.6,189.0 311.7,186.8 311.9,188.7 312.0,186.1 312.2,183.9 312.3,186.4 312.5,179.5 312.6,182.1 312.8,166.0 312.9,170.0 313.1,169.9 313.2,167.3 313.4,166.7 313.5,166.1 313.7,160.9 313.9,151.8 314.0,155.6 314.2,147.3 314.3,152.1 314.5,147.3 314.6,136.5 314.8,139.6 314.9,143.4 315.1,139.2 315.2,132.4 315.4,122.4 315.5,134.8 315.7,135.1 315.9,124.2 316.0,181.0 316.2,153.5 316.3,112.9 316.5,110.8 316.6,112.1 316.8,101.6 316.9,121.8 317.1,100.9 317.2,111.7 317.4,127.1 317.5,100.3 317.7,101.5 317.8,112.9 318.0,120.9 318.2,117.8 318.3,120.6 318.5,113.4 318.6,119.8 318.8,189.0 318.9,162.4 319.1,132.6 319.2,139.5 319.4,127.4 319.5,132.8 319.7,138.9 319.8,143.5 320.0,137.8 320.1,153.3 320.3,136.5 320.5,138.7 320.6,153.6 320.8,142.8 320.9,151.0 321.1,137.0 321.2,152.5 321.4,150.0 321.5,129.3 321.7,123.6 321.8,142.0 322.0,129.3 322.1,121.1 322.3,126.4 322.5,110.6 322.6,137.9 322.8,116.9 322.9,125.3 323.1,96.4 323.2,116.4 323.4,121.1 323.5,132.6 323.7,111.9 323.8,120.6 324.0,116.8 324.1,122.7 324.3,129.5 324.4,137.8 324.6,140.3 324.8,141.8 324.9,128.4 325.1,149.3 325.2,138.4 325.4,146.4 325.5,120.8 325.7,115.2 325.8,122.8 326.0,121.1 326.1,108.4 326.3,99.2 326.4,101.6 326.6,104.7 326.8,110.3 326.9,102.6 327.1,105.7 327.2,97.5 327.4,108.1 327.5,99.6 327.7,101.8 327.8,96.4 328.0,105.3 328.1,99.4 328.3,109.6 328.4,117.0 328.6,146.2 328.7,143.0 328.9,181.9 329.1,167.7 329.2,170.6 329.4,149.5 329.5,151.9 329.7,155.1 329.8,152.3 330.0,150.5 330.1,147.2 330.3,144.4 330.4,139.8 330.6,143.3 330.7,137.5 330.9,139.6 331.0,134.3 331.2,133.2 331.4,128.3 331.5,136.9 331.7,133.2 331.8,133.3 332.0,125.7 332.1,126.4 332.3,127.4 332.4,127.8 332.6,123.0 332.7,125.6 332.9,125.6 333.0,119.3 333.2,109.1 333.4,121.5 333.5,121.7 333.7,122.7 333.8,122.5 334.0,116.5 334.1,114.9 334.3,116.6 334.4,114.9 334.6,114.4 334.7,114.1 334.9,118.0 335.0,114.2 335.2,111.4 335.3,113.5 335.5,111.8 335.7,112.0 335.8,109.9 336.0,105.7 336.1,108.5 336.3,107.4 336.4,104.2 336.6,104.3 336.7,100.9 336.9,110.8 337.0,102.4 337.2,105.7 337.3,103.6 337.5,101.2 337.6,100.1 337.8,99.8 338.0,101.8 338.1,97.3 338.3,102.2 338.4,101.4 338.6,98.3 338.7,101.6 338.9,94.1 339.0,96.4 339.2,93.3 339.3,98.5 339.5,99.0 339.6,97.1 339.8,95.1 340.0,98.3 340.1,95.4 340.3,96.3 340.4,91.5 340.6,97.6 340.7,92.6 340.9,97.0 341.0,97.7 341.2,96.7 341.3,97.8 341.5,93.9 341.6,91.2 341.8,93.3 341.9,91.8 342.1,88.8 342.3,92.3 342.4,92.3 342.6,93.3 342.7,96.8 342.9,90.0 343.0,96.7 343.2,89.8 343.3,91.4 343.5,88.0 343.6,91.1 343.8,95.6 343.9,88.2 344.1,91.7 344.2,90.4 344.4,89.6 344.6,89.8 344.7,90.3 344.9,91.2 345.0,89.2 345.2,100.5 345.3,88.6 345.5,91.2 345.6,84.6 345.8,83.9 345.9,92.4 346.1,86.0 346.2,86.9 346.4,89.1 346.6,84.6 346.7,87.0 346.9,96.0 347.0,86.8 347.2,85.3 347.3,84.4 347.5,87.7 347.6,80.5 347.8,81.9 347.9,86.7 348.1,85.1 348.2,83.3 348.4,84.3 348.5,77.8 348.7,81.8 348.9,84.9 349.0,84.1 349.2,82.2 349.3,76.3 349.5,82.0 349.6,81.0 349.8,78.2 349.9,81.3 350.1,75.5 350.2,82.2 350.4,78.6 350.5,80.0 350.7,78.6 350.8,83.3 351.0,75.2 351.2,80.5 351.3,79.4 351.5,85.0 351.6,81.3 351.8,75.8 351.9,76.4 352.1,76.8 352.2,75.5 352.4,76.6 352.5,78.3 352.7,76.0 352.8,76.5 353.0,78.2 353.2,75.8 353.3,74.2 353.5,76.0 353.6,78.2 353.8,75.2 353.9,71.9 354.1,78.0 354.2,76.9 354.4,77.3 354.5,73.1 354.7,81.0 354.8,75.0 355.0,72.7 355.1,77.8 355.3,66.9 355.5,73.9 355.6,76.6 355.8,74.5 355.9,78.9 356.1,76.2 356.2,69.8 356.4,76.8 356.5,69.5 356.7,74.7 356.8,71.4 357.0,73.8 357.1,79.0 357.3,75.2 357.4,72.4 357.6,76.4 357.8,76.8 357.9,72.2 358.1,76.7 358.2,77.3 358.4,74.5 358.5,70.3 358.7,73.7 358.8,69.9 359.0,68.2 359.1,71.9 359.3,74.8 359.4,75.2 359.6,71.7 359.8,69.2 359.9,70.7 360.1,69.8 360.2,72.2 360.4,70.2 360.5,72.0 360.7,71.5 360.8,73.9 361.0,74.5 361.1,71.5 361.3,73.0 361.4,72.5 361.6,66.1 361.7,70.0 361.9,64.4 362.1,67.1 362.2,71.0 362.4,67.2 362.5,68.1 362.7,70.7 362.8,66.0 363.0,70.6 363.1,73.7 363.3,66.4 363.4,70.0 363.6,64.5 363.7,69.9 363.9,71.2 364.1,64.1 364.2,74.0 364.4,67.4 364.5,64.1 364.7,67.4 364.8,67.8 365.0,67.0 365.1,65.3 365.3,69.4 365.4,65.7 365.6,63.9 365.7,62.0 365.9,67.9 366.0,69.2 366.2,65.0 366.4,69.0 366.5,65.9 366.7,65.8 366.8,63.5 367.0,68.1 367.1,66.5 367.3,71.3 367.4,68.4 367.6,62.2 367.7,67.7 367.9,67.7 368.0,72.6 368.2,64.2 368.3,64.6 368.5,72.1 368.7,61.7 368.8,63.9 369.0,61.1 369.1,66.8 369.3,60.7 369.4,64.0 369.6,65.2 369.7,66.1 369.9,65.4 370.0,62.6 370.2,65.3 370.3,61.9 370.5,63.1 370.7,57.1 370.8,62.5 371.0,64.6 371.1,69.2 371.3,63.7 371.4,62.4 371.6,63.4 371.7,62.9 371.9,66.8 372.0,65.2 372.2,69.3 372.3,60.7 372.5,63.2 372.6,65.3 372.8,67.3 373.0,64.4 373.1,56.1 373.3,62.8 373.4,67.8 373.6,60.3 373.7,60.3 373.9,61.4 374.0,61.8 374.2,60.9 374.3,62.3 374.5,61.7 374.6,65.4 374.8,59.9 374.9,62.9 375.1,58.7 375.3,68.1 375.4,61.7 375.6,58.2 375.7,64.1 375.9,62.2 376.0,59.4 376.2,61.8 376.3,64.4 376.5,63.4 376.6,60.7 376.8,60.1 376.9,62.7 377.1,62.8 377.3,62.5 377.4,60.6 377.6,65.3 377.7,65.9 377.9,62.7 378.0,68.4 378.2,64.2 378.3,62.7 378.5,61.8 378.6,68.1 378.8,61.1 378.9,66.8 379.1,61.7 379.2,66.3 379.4,65.7 379.6,61.5 379.7,63.8 379.9,64.6 380.0,63.8 380.2,61.9 380.3,63.0 380.5,62.9 380.6,60.6 380.8,64.4 380.9,63.8 381.1,63.9 381.2,60.4 381.4,60.7 381.5,60.1 381.7,62.9 381.9,63.1 382.0,61.0 382.2,63.6 382.3,61.1 382.5,61.3 382.6,64.2 382.8,62.9 382.9,63.0 383.1,55.1 383.2,53.9 383.4,62.9 383.5,62.7 383.7,66.7 383.9,62.3 384.0,62.8 384.2,64.8 384.3,61.2 384.5,69.4 384.6,63.1 384.8,62.4 384.9,65.1 385.1,61.0 385.2,58.2 385.4,65.3 385.5,65.3 385.7,61.5 385.8,62.7 386.0,64.9 386.2,63.2 386.3,62.8 386.5,62.9 386.6,61.1 386.8,61.9 386.9,59.4 387.1,60.1 387.2,61.3 387.4,60.6 387.5,60.1 387.7,61.2 387.8,64.6 388.0,60.8 388.1,62.2 388.3,59.4 388.5,62.1 388.6,61.3 388.8,61.6 388.9,59.2 389.1,61.8 389.2,62.6 389.4,61.5 389.5,62.8 389.7,61.3 389.8,61.9 390.0,60.8 390.1,58.5 390.3,62.5 390.5,61.6 390.6,62.1 390.8,59.1 390.9,63.8 391.1,62.9 391.2,61.8 391.4,60.6 391.5,61.6 391.7,62.4 391.8,63.0 392.0,60.5 392.1,55.8 392.3,60.8 392.4,61.0 392.6,60.5 392.8,62.9 392.9,61.8 393.1,61.7 393.2,60.6 393.4,61.2 393.5,63.2 393.7,59.1 393.8,58.0 394.0,62.0 394.1,59.4 394.3,60.4 394.4,59.5 394.6,63.4 394.8,57.9 394.9,61.6 395.1,58.5 395.2,60.5 395.4,61.3 395.5,61.1 395.7,59.0 395.8,62.0 396.0,61.9 396.1,62.3 396.3,63.4 396.4,55.4 396.6,59.3 396.7,60.4 396.9,58.2 397.1,61.9 397.2,60.5 397.4,57.1 397.5,58.4 397.7,63.6 397.8,63.6 398.0,61.9 398.1,56.0 398.3,60.9 398.4,60.4 398.6,59.0 398.7,61.6 398.9,59.6 399.0,58.6 399.2,58.2 399.4,59.3 399.5,61.0 399.7,59.0 399.8,60.6 400.0,57.6 400.1,52.2 400.3,61.1 400.4,63.3 400.6,60.6 400.7,59.1 400.9,58.0 401.0,57.9 401.2,61.1 401.4,61.1 401.5,57.5 401.7,61.6 401.8,57.8 402.0,60.1 402.1,58.3 402.3,58.4 402.4,58.3 402.6,58.2 402.7,61.3 402.9,59.1 403.0,59.5 403.2,59.0 403.3,57.4 403.5,60.0 403.7,60.7 403.8,60.8 404.0,60.0 404.1,58.2 404.3,62.6 404.4,55.0 404.6,58.9 404.7,59.8 404.9,61.7 405.0,58.9 405.2,58.2 405.3,62.4 405.5,57.3 405.6,56.5 405.8,58.7 406.0,58.4 406.1,55.8 406.3,57.1 406.4,60.8 406.6,59.2 406.7,59.5 406.9,59.4 407.0,62.6 407.2,56.3 407.3,60.2 407.5,58.8 407.6,59.6 407.8,57.6 408.0,59.6 408.1,60.4 408.3,58.1 408.4,56.6 408.6,59.6 408.7,56.6 408.9,58.5 409.0,59.9 409.2,56.3 409.3,60.3 409.5,55.1 409.6,59.8 409.8,58.1 409.9,61.0 410.1,60.3 410.3,54.8 410.4,58.5 410.6,58.7 410.7,59.6 410.9,58.0 411.0,61.2 411.2,60.7 411.3,59.0 411.5,60.2 411.6,59.9 411.8,58.8 411.9,59.2 412.1,59.0 412.2,55.8 412.4,54.8 412.6,56.5 412.7,58.7 412.9,59.5 413.0,61.1 413.2,59.2 413.3,62.0 413.5,59.5 413.6,57.2 413.8,55.7 413.9,56.8 414.1,59.9 414.2,57.6 414.4,59.8 414.6,55.3 414.7,58.6 414.9,56.9 415.0,55.0 415.2,56.8 415.3,54.9 415.5,57.7 415.6,58.9 415.8,56.0 415.9,55.4 416.1,59.2 416.2,58.1 416.4,60.7 416.5,58.6 416.7,56.7 416.9,58.3 417.0,60.3 417.2,60.6 417.3,57.5 417.5,55.2 417.6,55.9 417.8,57.7 417.9,62.9 418.1,51.5 418.2,58.2 418.4,58.3 418.5,56.8 418.7,61.4 418.8,58.1 419.0,58.2 419.2,56.6 419.3,55.7 419.5,57.2 419.6,61.1 419.8,58.5 419.9,57.6 420.1,57.7 420.2,60.1 420.4,60.7 420.5,57.0 420.7,57.3 420.8,57.9 421.0,60.8 421.2,54.9 421.3,61.3 421.5,58.5 421.6,54.5 421.8,58.1 421.9,57.5 422.1,59.8 422.2,52.8 422.4,60.0 422.5,57.4 422.7,57.3 422.8,59.6 423.0,56.3 423.1,60.2 423.3,58.9 423.5,57.8 423.6,58.5 423.8,57.0 423.9,56.2 424.1,58.2 424.2,58.6 424.4,58.6 424.5,58.3 424.7,56.3 424.8,58.1 425.0,57.0 425.1,57.8 425.3,59.1 425.5,56.2 425.6,61.5 425.8,57.6 425.9,55.2 426.1,59.5 426.2,57.7 426.4,60.3 426.5,58.5 426.7,63.1 426.8,58.2 427.0,59.6 427.1,57.4 427.3,51.7 427.4,57.1 427.6,56.5 427.8,57.7 427.9,58.4 428.1,58.9 428.2,60.5 428.4,57.4 428.5,54.8 428.7,56.7 428.8,59.5 429.0,54.7 429.1,58.2 429.3,58.5 429.4,59.5 429.6,59.1 429.7,58.4 429.9,54.1 430.1,57.8 430.2,59.1 430.4,58.4 430.5,57.8 430.7,60.3 430.8,57.2 431.0,56.2 431.1,56.8 431.3,56.4 431.4,59.5 431.6,60.2 431.7,55.2 431.9,55.5 432.1,59.9 432.2,57.0 432.4,57.3 432.5,56.4 432.7,57.0 432.8,58.1 433.0,57.0 433.1,57.0 433.3,57.4 433.4,64.0 433.6,60.6 433.7,58.6 433.9,60.0 434.0,56.8 434.2,56.0 434.4,56.3 434.5,58.6 434.7,57.1 434.8,55.3 435.0,58.4 435.1,55.7 435.3,56.0 435.4,56.7 435.6,54.8 435.7,58.3 435.9,55.6 436.0,58.7 436.2,58.4 436.3,58.9 436.5,56.4 436.7,58.7 436.8,57.0 437.0,59.0 437.1,55.3 437.3,54.0 437.4,56.7 437.6,54.3 437.7,56.1 437.9,53.7 438.0,56.9 438.2,59.6 438.3,54.6 438.5,57.2 438.7,58.7 438.8,58.1 439.0,59.7 439.1,57.6 439.3,58.7 439.4,54.5 439.6,54.6 439.7,59.7 439.9,59.4 440.0,57.8 440.2,60.1 440.3,57.1 440.5,56.9 440.6,59.6 440.8,57.7 441.0,55.0 441.1,51.6 441.3,54.3 441.4,56.7 441.6,55.3 441.7,59.3 441.9,56.0 442.0,58.2 442.2,55.4 442.3,58.6 442.5,58.1 442.6,56.6 442.8,55.6 442.9,58.9 443.1,57.4 443.3,56.2 443.4,56.1 443.6,57.8 443.7,56.2 443.9,56.8 444.0,54.1 444.2,55.4 444.3,61.1 444.5,59.5 444.6,56.1 444.8,54.3 444.9,55.9 445.1,54.8 445.3,57.0 445.4,58.4 445.6,54.9 445.7,55.8 445.9,55.0 446.0,58.3 446.2,55.7 446.3,57.0 446.5,54.7 446.6,56.9 446.8,56.9 446.9,56.9 447.1,53.9 447.2,55.8 447.4,57.1 447.6,57.5 447.7,59.6 447.9,53.4 448.0,58.7 448.2,57.1 448.3,54.7 448.5,53.8 448.6,55.9 448.8,54.4 448.9,54.4 449.1,54.0 449.2,55.5 449.4,52.9 449.5,55.2 449.7,53.0 449.9,57.3 450.0,54.0 450.2,59.9 450.3,57.9 450.5,54.7 450.6,56.8 450.8,54.8 450.9,57.2 451.1,52.9 451.2,55.5 451.4,57.3 451.5,55.2 451.7,54.1 451.9,56.7 452.0,54.7 452.2,52.4 452.3,54.1 452.5,55.4 452.6,56.4 452.8,53.4 452.9,60.8 453.1,62.7 453.2,57.8 453.4,57.3 453.5,52.7 453.7,55.3 453.8,57.1 454.0,59.5 454.2,54.7 454.3,56.9 454.5,56.5 454.6,55.7 454.8,55.1 454.9,55.4 455.1,55.4 455.2,53.5 455.4,52.8 455.5,58.2 455.7,52.5 455.8,55.3 456.0,53.6 456.2,56.7 456.3,55.0 456.5,55.2 456.6,55.4 456.8,54.2 456.9,54.6 457.1,57.2 457.2,55.8 457.4,54.4 457.5,54.5 457.7,56.1 457.8,56.0 458.0,55.8 458.1,59.3 458.3,60.0 458.5,50.0 458.6,56.2 458.8,55.5 458.9,58.1 459.1,50.9 459.2,52.8 459.4,56.0 459.5,54.8 459.7,56.8 459.8,52.8 460.0,54.2 460.1,57.0 460.3,53.7 460.4,55.1 460.6,55.0 460.8,55.1 460.9,56.7 461.1,56.5 461.2,54.7 461.4,55.8 461.5,57.2 461.7,52.6 461.8,56.0 462.0,56.6 462.1,58.0 462.3,54.6 462.4,54.2 462.6,55.3 462.8,54.3 462.9,58.1 463.1,56.3 463.2,56.5 463.4,55.7 463.5,55.0 463.7,59.0 463.8,52.7 464.0,57.1 464.1,55.2 464.3,54.5 464.4,54.4 464.6,55.4 464.7,59.0 464.9,57.5 465.1,54.6 465.2,58.9 465.4,59.4 465.5,59.0 465.7,53.9 465.8,55.0 466.0,57.2 466.1,56.0 466.3,56.0 466.4,57.6 466.6,56.3 466.7,55.4 466.9,55.0 467.0,53.8 467.2,55.8 467.4,56.6 467.5,55.2 467.7,56.8 467.8,57.8 468.0,54.0 468.1,56.4 468.3,55.7 468.4,54.8 468.6,57.6 468.7,54.8 468.9,55.1 469.0,56.0 469.2,55.2 469.4,58.4 469.5,59.0 469.7,56.3 469.8,57.3 470.0,54.5 470.1,55.4 470.3,56.7 470.4,55.6 470.6,53.7 470.7,54.1 470.9,55.3 471.0,54.3 471.2,56.3 471.3,56.1 471.5,54.9 471.7,56.2 471.8,55.4 472.0,57.6 472.1,58.5 472.3,58.5 472.4,56.5 472.6,53.8 472.7,54.0 472.9,57.4 473.0,58.3 473.2,54.6 473.3,55.1 473.5,60.5 473.6,52.2 473.8,55.6 474.0,53.8 474.1,55.3 474.3,54.5 474.4,54.7 474.6,57.3 474.7,56.2 474.9,56.9 475.0,54.6 475.2,57.4 475.3,58.2 475.5,53.5 475.6,54.1 475.8,53.6 476.0,54.2 476.1,58.2 476.3,56.9 476.4,56.7 476.6,55.9 476.7,59.0 476.9,55.9 477.0,55.4 477.2,57.3 477.3,55.7 477.5,54.0 477.6,55.8 477.8,54.2 477.9,54.3 478.1,54.4 478.3,54.5 478.4,56.4 478.6,51.6 478.7,56.6 478.9,56.9 479.0,54.8 479.2,57.0 479.3,55.2 479.5,54.2 479.6,55.7 479.8,55.7 479.9,54.4 480.1,54.7 480.2,58.2 480.4,57.9 480.6,53.8 480.7,54.6 480.9,59.0 481.0,58.0 481.2,55.9 481.3,57.5 481.5,55.2 481.6,55.7 481.8,54.3 481.9,57.8 482.1,55.1 482.2,53.0 482.4,57.3 482.6,54.1 482.7,54.6 482.9,53.9 483.0,56.2 483.2,57.9 483.3,59.1 483.5,55.0 483.6,54.7 483.8,54.3 483.9,54.7 484.1,53.1 484.2,56.9 484.4,58.1 484.5,55.9 484.7,55.5 484.9,56.2 485.0,58.6 485.2,57.1 485.3,58.6 485.5,56.1 485.6,58.0 485.8,56.6 485.9,55.9 486.1,56.2 486.2,54.3 486.4,58.1 486.5,59.5 486.7,55.0 486.9,54.3 487.0,54.3 487.2,56.1 487.3,55.7 487.5,56.3 487.6,58.5 487.8,57.4 487.9,55.8 488.1,57.5 488.2,53.7 488.4,59.0 488.5,57.3 488.7,55.0 488.8,57.6 489.0,58.4 489.2,58.7 489.3,57.8 489.5,54.4 489.6,56.2 489.8,55.2 489.9,57.8 490.1,55.9 490.2,57.1 490.4,58.8 490.5,58.2 490.7,57.3 490.8,55.9 491.0,57.9 491.1,56.2 491.3,51.4 491.5,59.3 491.6,60.1 491.8,56.9 491.9,57.0 492.1,58.8 492.2,58.3 492.4,59.3 492.5,58.1 492.7,59.5 492.8,57.7 493.0,60.6 493.1,60.0 493.3,58.5 493.5,60.1 493.6,57.5 493.8,58.5 493.9,59.2 494.1,57.5 494.2,59.0 494.4,60.5 494.5,59.8 494.7,59.2 494.8,58.6 495.0,57.4 495.1,56.4 495.3,56.8 495.4,54.9 495.6,55.6 495.8,57.7 495.9,54.9 496.1,55.5 496.2,57.9 496.4,56.6 496.5,55.4 496.7,56.1 496.8,55.3 497.0,56.2 497.1,55.6 497.3,57.1 497.4,55.9 497.6,57.5 497.7,55.3 497.9,58.7 498.1,55.6 498.2,54.1 498.4,55.0 498.5,55.8 498.7,53.8 498.8,56.8 499.0,56.7 499.1,55.9 499.3,55.7 499.4,53.7 499.6,56.4 499.7,53.5 499.9,57.2 500.1,55.9 500.2,54.7 500.4,52.8 500.5,56.4 500.7,57.4 500.8,53.6 501.0,54.2 501.1,55.6 501.3,55.5 501.4,54.9 501.6,53.3 501.7,52.6 501.9,55.7 502.0,50.5 502.2,53.4 502.4,53.8 502.5,52.1 502.7,52.6 502.8,50.0 503.0,51.2 503.1,53.3 503.3,53.8 503.4,53.5 503.6,53.9 503.7,51.9 503.9,54.0 504.0,50.8 504.2,53.4 504.3,53.6 504.5,52.1 504.7,56.5 504.8,56.6 505.0,52.9 505.1,53.9 505.3,54.0 505.4,53.5 505.6,55.1 505.7,54.8 505.9,56.4 506.0,57.3 506.2,50.5 506.3,56.1 506.5,55.9 506.7,52.9 506.8,53.5 507.0,55.9 507.1,56.1 507.3,55.5 507.4,56.9 507.6,54.8 507.7,55.5 507.9,55.6 508.0,53.4 508.2,54.9 508.3,53.3 508.5,53.8 508.6,58.5 508.8,54.8 509.0,57.8 509.1,58.3 509.3,55.2 509.4,58.5 509.6,56.8 509.7,52.8 509.9,57.4 510.0,57.7 510.2,56.0 510.3,54.7 510.5,55.8 510.6,58.9 510.8,57.6 510.9,56.9 511.1,53.9 511.3,55.5 511.4,55.6 511.6,55.1 511.7,57.3 511.9,55.3 512.0,56.2 512.2,58.4 512.3,57.0 512.5,56.2 512.6,58.6 512.8,55.9 512.9,56.0 513.1,55.6 513.3,59.6 513.4,57.0 513.6,55.1 513.7,56.1 513.9,58.4 514.0,57.0 514.2,55.3 514.3,57.6 514.5,56.1 514.6,54.6 514.8,57.5 514.9,57.7 515.1,59.0 515.2,58.5 515.4,55.5 515.6,58.0 515.7,59.4 515.9,59.0 516.0,57.7 516.2,56.7 516.3,58.9 516.5,56.8 516.6,58.6 516.8,57.4 516.9,57.2 517.1,57.1 517.2,58.6 517.4,58.3 517.6,57.3 517.7,62.2 517.9,57.5 518.0,57.4 518.2,56.7 518.3,58.3 518.5,58.5 518.6,57.8 518.8,59.4 518.9,59.0 519.1,57.8 519.2,58.0 519.4,59.9 519.5,58.9 519.7,61.4 519.9,56.0 520.0,59.3 520.2,58.3 520.3,60.2 520.5,58.8 520.6,58.1 520.8,57.3 520.9,60.7 521.1,56.2 521.2,59.1 521.4,60.0 521.5,57.4 521.7,59.4 521.8,59.9 522.0,60.0 522.2,58.7 522.3,59.0 522.5,59.3 522.6,60.5 522.8,59.8 522.9,58.5 523.1,57.3 523.2,59.1 523.4,57.1 523.5,59.2 523.7,60.7 523.8,58.2 524.0,52.3"/>
<polyline fill="none" stroke="#f8a25c" stroke-width="1.0" stroke-linejoin="round" points="311.4,189.0 311.6,169.8 311.7,136.3 311.9,121.2 312.0,135.5 312.2,116.3 312.3,122.3 312.5,104.3 312.6,113.4 312.8,95.9 312.9,93.6 313.1,82.9 313.2,88.3 313.4,84.5 313.5,97.4 313.7,74.9 313.9,97.7 314.0,73.9 314.2,86.0 314.3,85.7 314.5,82.7 314.6,81.4 314.8,69.6 314.9,75.5 315.1,65.4 315.2,85.7 315.4,72.9 315.5,78.0 315.7,66.6 315.9,83.6 316.0,100.2 316.2,91.4 316.3,79.3 316.5,62.1 316.6,68.7 316.8,63.6 316.9,63.6 317.1,81.5 317.2,73.4 317.4,69.7 317.5,64.1 317.7,60.9 317.8,71.8 318.0,71.0 318.2,76.9 318.3,70.4 318.5,68.3 318.6,68.4 318.8,60.0 318.9,69.0 319.1,67.7 319.2,63.8 319.4,70.5 319.5,67.4 319.7,65.4 319.8,61.6 320.0,71.2 320.1,58.8 320.3,66.2 320.5,63.6 320.6,60.4 320.8,58.3 320.9,59.2 321.1,62.8 321.2,63.4 321.4,61.8 321.5,67.0 321.7,57.4 321.8,65.6 322.0,67.3 322.1,57.0 322.3,62.4 322.5,66.1 322.6,56.6 322.8,62.5 322.9,57.2 323.1,63.8 323.2,62.6 323.4,66.3 323.5,66.7 323.7,63.3 323.8,60.0 324.0,57.0 324.1,55.3 324.3,62.5 324.4,56.0 324.6,60.8 324.8,59.2 324.9,62.9 325.1,62.7 325.2,60.5 325.4,61.4 325.5,57.9 325.7,59.6 325.8,54.3 326.0,56.5 326.1,56.8 326.3,54.2 326.4,55.6 326.6,56.8 326.8,56.7 326.9,56.6 327.1,53.8 327.2,54.3 327.4,55.1 327.5,67.4 327.7,56.6 327.8,54.3 328.0,57.8 328.1,52.6 328.3,54.8 328.4,54.5 328.6,52.5 328.7,54.7 328.9,55.1 329.1,52.5 329.2,54.1 329.4,56.0 329.5,53.6 329.7,57.2 329.8,52.1 330.0,54.5 330.1,54.0 330.3,51.9 330.4,51.8 330.6,53.7 330.7,52.8 330.9,52.0 331.0,107.3 331.2,105.6 331.4,53.3 331.5,51.6 331.7,53.0 331.8,52.2 332.0,52.4 332.1,54.9 332.3,54.4 332.4,56.1 332.6,53.9 332.7,51.0 332.9,54.5 333.0,51.0 333.2,51.3 333.4,52.7 333.5,52.6 333.7,52.4 333.8,53.7 334.0,52.8 334.1,52.4 334.3,51.4 334.4,51.1 334.6,53.1 334.7,51.0 334.9,53.0 335.0,52.1 335.2,51.4 335.3,51.8 335.5,51.9 335.7,51.3 335.8,52.3 336.0,53.3 336.1,51.7 336.3,50.2 336.4,51.5 336.6,49.7 336.7,51.0 336.9,53.7 337.0,52.3 337.2,49.4 337.3,51.0 337.5,52.2 337.6,52.0 337.8,49.2 338.0,49.2 338.1,49.9 338.3,50.2 338.4,49.0 338.6,49.6 338.7,53.9 338.9,49.5 339.0,50.2 339.2,50.5 339.3,49.4 339.5,50.2 339.6,52.7 339.8,48.5 340.0,48.5 340.1,50.2 340.3,51.0 340.4,49.6 340.6,51.5 340.7,49.4 340.9,50.1 341.0,50.2 341.2,50.8 341.3,50.4 341.5,47.9 341.6,47.8 341.8,48.7 341.9,49.3 342.1,50.3 342.3,48.2 342.4,47.4 342.6,50.9 342.7,47.4 342.9,51.3 343.0,49.1 343.2,48.1 343.3,50.2 343.5,50.3 343.6,48.1 343.8,46.7 343.9,48.8 344.1,46.5 344.2,49.0 344.4,46.4 344.6,47.7 344.7,47.5 344.9,47.0 345.0,47.2 345.2,45.9 345.3,45.9 345.5,45.9 345.6,47.5 345.8,48.7 345.9,48.1 346.1,47.1 346.2,47.1 346.4,47.3 346.6,47.4 346.7,47.0 346.9,49.3 347.0,49.1 347.2,46.9 347.3,47.6 347.5,49.0 347.6,47.9 347.8,52.3 347.9,55.1 348.1,59.1 348.2,60.7 348.4,64.9 348.5,68.1 348.7,72.0 348.9,76.1 349.0,73.6 349.2,70.9 349.3,69.4 349.5,67.1 349.6,64.7 349.8,62.9 349.9,61.5 350.1,59.9 350.2,59.3 350.4,57.2 350.5,56.8 350.7,54.4 350.8,53.6 351.0,51.6 351.2,51.8 351.3,52.2 351.5,51.5 351.6,51.4 351.8,51.8 351.9,51.4 352.1,51.6 352.2,50.2 352.4,50.6 352.5,50.0 352.7,51.2 352.8,51.2 353.0,50.8 353.2,50.8 353.3,50.1 353.5,51.4 353.6,50.2 353.8,50.3 353.9,51.5 354.1,50.6 354.2,51.6 354.4,51.0 354.5,51.0 354.7,50.6 354.8,51.7 355.0,51.3 355.1,50.9 355.3,52.8 355.5,51.4 355.6,51.9 355.8,52.2 355.9,51.1 356.1,51.1 356.2,50.8 356.4,50.8 356.5,50.8 356.7,51.6 356.8,51.6 357.0,51.4 357.1,52.6 357.3,50.8 357.4,51.9 357.6,52.1 357.8,51.8 357.9,51.1 358.1,50.9 358.2,51.8 358.4,51.3 358.5,51.6 358.7,52.1 358.8,51.5 359.0,51.5 359.1,52.4 359.3,51.0 359.4,52.5 359.6,51.5 359.8,52.2 359.9,52.1 360.1,52.0 360.2,51.3 360.4,52.3 360.5,51.9 360.7,51.0 360.8,52.5 361.0,51.7 361.1,51.3 361.3,52.0 361.4,51.5 361.6,52.1 361.7,51.3 361.9,51.7 362.1,52.2 362.2,51.1 362.4,51.8 362.5,51.9 362.7,52.3 362.8,52.0 363.0,51.8 363.1,51.7"/>
<path d="M38.4,249.1H268.8V434.5" fill="none" stroke="#787878" stroke-width="1.4"/>
<path d="M38.4,248.5V434.5H269.40000000000003" fill="none" stroke="#4a4a4a" stroke-width="1.3"/>
<line x1="34.7" y1="425.7" x2="38.4" y2="425.7" stroke="#4a4a4a" stroke-width="1"/>
<text x="32.5" y="428.3" class="yt">0. 0</text>
<line x1="36.2" y1="408.0" x2="38.4" y2="408.0" stroke="#4a4a4a" stroke-width="1"/>
<line x1="34.7" y1="390.4" x2="38.4" y2="390.4" stroke="#4a4a4a" stroke-width="1"/>
<text x="32.5" y="393.0" class="yt">0. 2</text>
<line x1="36.2" y1="372.7" x2="38.4" y2="372.7" stroke="#4a4a4a" stroke-width="1"/>
<line x1="34.7" y1="355.1" x2="38.4" y2="355.1" stroke="#4a4a4a" stroke-width="1"/>
<text x="32.5" y="357.7" class="yt">0. 4</text>
<line x1="36.2" y1="337.4" x2="38.4" y2="337.4" stroke="#4a4a4a" stroke-width="1"/>
<line x1="34.7" y1="319.7" x2="38.4" y2="319.7" stroke="#4a4a4a" stroke-width="1"/>
<text x="32.5" y="322.4" class="yt">0. 6</text>
<line x1="36.2" y1="302.1" x2="38.4" y2="302.1" stroke="#4a4a4a" stroke-width="1"/>
<line x1="34.7" y1="284.4" x2="38.4" y2="284.4" stroke="#4a4a4a" stroke-width="1"/>
<text x="32.5" y="287.1" class="yt">0. 8</text>
<line x1="36.2" y1="266.8" x2="38.4" y2="266.8" stroke="#4a4a4a" stroke-width="1"/>
<line x1="34.7" y1="249.1" x2="38.4" y2="249.1" stroke="#4a4a4a" stroke-width="1"/>
<text x="32.5" y="251.8" class="yt">1. 0</text>
<line x1="38.4" y1="434.5" x2="38.4" y2="438.0" stroke="#4a4a4a" stroke-width="1"/>
<text x="38.4" y="447.7" class="xt">0</text>
<line x1="53.8" y1="434.5" x2="53.8" y2="436.3" stroke="#4a4a4a" stroke-width="1"/>
<line x1="69.1" y1="434.5" x2="69.1" y2="438.0" stroke="#4a4a4a" stroke-width="1"/>
<text x="69.1" y="447.7" class="xt">200</text>
<line x1="84.4" y1="434.5" x2="84.4" y2="436.3" stroke="#4a4a4a" stroke-width="1"/>
<line x1="99.8" y1="434.5" x2="99.8" y2="438.0" stroke="#4a4a4a" stroke-width="1"/>
<text x="99.8" y="447.7" class="xt">400</text>
<line x1="115.2" y1="434.5" x2="115.2" y2="436.3" stroke="#4a4a4a" stroke-width="1"/>
<line x1="130.5" y1="434.5" x2="130.5" y2="438.0" stroke="#4a4a4a" stroke-width="1"/>
<text x="130.5" y="447.7" class="xt">600</text>
<line x1="145.8" y1="434.5" x2="145.8" y2="436.3" stroke="#4a4a4a" stroke-width="1"/>
<line x1="161.2" y1="434.5" x2="161.2" y2="438.0" stroke="#4a4a4a" stroke-width="1"/>
<text x="161.2" y="447.7" class="xt">800</text>
<line x1="176.6" y1="434.5" x2="176.6" y2="436.3" stroke="#4a4a4a" stroke-width="1"/>
<line x1="191.9" y1="434.5" x2="191.9" y2="438.0" stroke="#4a4a4a" stroke-width="1"/>
<text x="191.9" y="447.7" class="xt">1000</text>
<line x1="207.2" y1="434.5" x2="207.2" y2="436.3" stroke="#4a4a4a" stroke-width="1"/>
<line x1="222.6" y1="434.5" x2="222.6" y2="438.0" stroke="#4a4a4a" stroke-width="1"/>
<text x="222.6" y="447.7" class="xt">1200</text>
<line x1="237.9" y1="434.5" x2="237.9" y2="436.3" stroke="#4a4a4a" stroke-width="1"/>
<line x1="253.3" y1="434.5" x2="253.3" y2="438.0" stroke="#4a4a4a" stroke-width="1"/>
<text x="253.3" y="447.7" class="xt">1400</text>
<line x1="268.6" y1="434.5" x2="268.6" y2="436.3" stroke="#4a4a4a" stroke-width="1"/>
<text x="153.6" y="461.9" class="ttl" text-anchor="middle">Epochs</text>
<text x="152.7" y="475.3" class="lt" text-anchor="middle">(c)</text>
<text transform="translate(16.2,341.8) rotate(-90)" class="ttl" text-anchor="middle">mAP</text>
<polyline fill="none" stroke="#2f2f2f" stroke-width="0.9" stroke-linejoin="round" points="38.4,425.7 38.6,425.7 38.7,425.1 38.9,422.4 39.0,418.2 39.2,418.5 39.3,417.9 39.5,416.2 39.6,408.5 39.8,402.6 39.9,404.9 40.1,408.1 40.2,404.7 40.4,391.4 40.5,394.7 40.7,400.9 40.9,390.8 41.0,393.6 41.2,388.5 41.3,386.3 41.5,384.0 41.6,374.5 41.8,375.4 41.9,375.9 42.1,366.4 42.2,362.1 42.4,374.9 42.5,363.7 42.7,425.7 42.9,390.4 43.0,376.5 43.2,370.5 43.3,373.0 43.5,372.3 43.6,374.6 43.8,368.1 43.9,370.2 44.1,369.5 44.2,357.2 44.4,367.4 44.5,354.7 44.7,359.3 44.8,378.4 45.0,329.3 45.2,372.7 45.3,370.2 45.5,425.7 45.6,381.6 45.8,375.4 45.9,376.7 46.1,370.1 46.2,380.3 46.4,364.4 46.5,372.8 46.7,364.3 46.8,364.0 47.0,341.9 47.1,354.3 47.3,347.9 47.5,358.0 47.6,359.1 47.8,364.3 47.9,376.7 48.1,369.6 48.2,353.2 48.4,364.7 48.5,357.3 48.7,355.2 48.8,347.5 49.0,352.2 49.1,349.0 49.3,344.6 49.5,343.8 49.6,348.5 49.8,334.9 49.9,347.9 50.1,348.7 50.2,349.0 50.4,336.8 50.5,349.6 50.7,355.7 50.8,359.8 51.0,352.2 51.1,359.9 51.3,359.0 51.4,343.8 51.6,353.8 51.8,345.5 51.9,341.0 52.1,345.7 52.2,344.8 52.4,337.0 52.5,351.6 52.7,358.4 52.8,364.2 53.0,349.4 53.1,346.9 53.3,339.1 53.4,340.6 53.6,342.5 53.8,346.0 53.9,346.3 54.1,342.9 54.2,348.9 54.4,347.3 54.5,329.3 54.7,348.2 54.8,368.8 55.0,342.9 55.1,353.4 55.3,365.2 55.4,420.4 55.6,390.4 55.7,367.7 55.9,369.4 56.1,372.9 56.2,365.7 56.4,357.4 56.5,364.9 56.7,360.3 56.8,351.1 57.0,365.7 57.1,359.8 57.3,361.1 57.4,362.7 57.6,361.8 57.7,358.8 57.9,357.2 58.0,359.1 58.2,357.2 58.4,355.0 58.5,355.2 58.7,353.4 58.8,353.8 59.0,353.2 59.1,349.0 59.3,351.6 59.4,352.4 59.6,350.2 59.7,354.1 59.9,352.3 60.0,348.1 60.2,348.0 60.4,344.7 60.5,348.4 60.7,353.6 60.8,339.1 61.0,343.1 61.1,350.0 61.3,340.9 61.4,344.2 61.6,349.0 61.7,344.2 61.9,343.8 62.0,334.7 62.2,343.3 62.3,340.9 62.5,340.3 62.7,340.4 62.8,341.0 63.0,336.7 63.1,333.4 63.3,333.5 63.4,339.8 63.6,338.7 63.7,334.1 63.9,336.1 64.0,335.3 64.2,338.0 64.3,326.0 64.5,328.6 64.6,334.0 64.8,327.5 65.0,325.5 65.1,337.9 65.3,330.3 65.4,329.4 65.6,325.7 65.7,327.7 65.9,327.6 66.0,326.7 66.2,320.3 66.3,319.4 66.5,326.9 66.6,327.7 66.8,318.2 67.0,327.0 67.1,326.1 67.3,323.1 67.4,321.3 67.6,319.2 67.7,320.7 67.9,324.2 68.0,319.8 68.2,320.4 68.3,315.3 68.5,320.9 68.6,324.8 68.8,323.7 68.9,315.9 69.1,321.9 69.3,326.2 69.4,322.4 69.6,319.7 69.7,316.0 69.9,322.5 70.0,317.2 70.2,316.7 70.3,321.1 70.5,319.3 70.6,313.3 70.8,313.2 70.9,315.7 71.1,317.1 71.2,313.2 71.4,318.2 71.6,317.9 71.7,320.1 71.9,317.3 72.0,317.4 72.2,308.6 72.3,317.4 72.5,312.9 72.6,312.6 72.8,316.9 72.9,312.7 73.1,322.0 73.2,315.6 73.4,312.1 73.6,321.5 73.7,318.8 73.9,312.0 74.0,315.7 74.2,318.1 74.3,315.7 74.5,316.0 74.6,312.1 74.8,312.2 74.9,314.7 75.1,315.7 75.2,313.7 75.4,307.9 75.5,312.2 75.7,311.2 75.9,313.3 76.0,316.5 76.2,314.6 76.3,310.4 76.5,311.8 76.6,314.6 76.8,319.7 76.9,311.3 77.1,312.5 77.2,312.4 77.4,312.2 77.5,310.2 77.7,310.1 77.8,308.0 78.0,307.9 78.2,306.6 78.3,308.0 78.5,311.1 78.6,310.2 78.8,308.5 78.9,310.6 79.1,308.0 79.2,306.1 79.4,311.6 79.5,314.2 79.7,304.2 79.8,308.8 80.0,305.9 80.2,312.4 80.3,301.5 80.5,305.3 80.6,308.5 80.8,309.4 80.9,307.5 81.1,308.3 81.2,308.3 81.4,310.5 81.5,303.7 81.7,307.2 81.8,306.7 82.0,306.5 82.1,312.3 82.3,305.0 82.5,307.3 82.6,307.0 82.8,305.9 82.9,308.6 83.1,303.4 83.2,307.6 83.4,308.0 83.5,308.7 83.7,304.6 83.8,302.2 84.0,306.6 84.1,309.0 84.3,301.8 84.4,308.7 84.6,301.1 84.8,304.5 84.9,306.1 85.1,305.8 85.2,302.6 85.4,301.3 85.5,304.2 85.7,300.9 85.8,297.9 86.0,304.1 86.1,306.3 86.3,305.9 86.4,306.7 86.6,304.5 86.8,304.6 86.9,306.1 87.1,300.9 87.2,307.6 87.4,307.1 87.5,296.5 87.7,299.0 87.8,299.7 88.0,300.3 88.1,296.7 88.3,299.9 88.4,300.9 88.6,304.3 88.7,301.1 88.9,302.7 89.1,302.5 89.2,302.4 89.4,300.5 89.5,301.1 89.7,297.8 89.8,303.5 90.0,300.3 90.1,294.8 90.3,299.5 90.4,295.0 90.6,296.3 90.7,294.3 90.9,297.1 91.1,302.6 91.2,299.5 91.4,299.7 91.5,302.6 91.7,299.7 91.8,301.7 92.0,302.7 92.1,297.7 92.3,298.3 92.4,299.9 92.6,301.5 92.7,299.3 92.9,298.8 93.0,299.2 93.2,297.8 93.4,298.7 93.5,296.5 93.7,296.0 93.8,296.4 94.0,299.0 94.1,298.7 94.3,296.0 94.4,297.5 94.6,297.0 94.7,302.0 94.9,303.9 95.0,295.8 95.2,295.7 95.3,292.9 95.5,294.6 95.7,295.8 95.8,296.2 96.0,299.8 96.1,293.0 96.3,298.2 96.4,294.7 96.6,295.3 96.7,295.1 96.9,292.5 97.0,297.3 97.2,296.5 97.3,297.6 97.5,296.3 97.7,291.1 97.8,296.1 98.0,292.1 98.1,292.1 98.3,293.1 98.4,292.9 98.6,298.3 98.7,293.8 98.9,290.7 99.0,296.3 99.2,294.6 99.3,296.1 99.5,293.5 99.6,296.9 99.8,290.2 100.0,295.4 100.1,299.4 100.3,289.7 100.4,291.7 100.6,292.7 100.7,292.7 100.9,294.8 101.0,294.5 101.2,292.2 101.3,291.7 101.5,291.6 101.6,293.3 101.8,294.9 101.9,294.2 102.1,291.1 102.3,290.3 102.4,294.5 102.6,294.7 102.7,290.7 102.9,291.9 103.0,292.0 103.2,297.7 103.3,294.7 103.5,294.6 103.6,293.0 103.8,297.2 103.9,290.6 104.1,292.7 104.3,292.4 104.4,295.9 104.6,293.3 104.7,290.3 104.9,296.7 105.0,292.5 105.2,291.7 105.3,294.6 105.5,291.4 105.6,293.8 105.8,289.4 105.9,291.9 106.1,292.5 106.2,288.7 106.4,290.4 106.6,290.1 106.7,296.2 106.9,294.1 107.0,290.9 107.2,290.8 107.3,292.7 107.5,290.9 107.6,294.6 107.8,292.0 107.9,294.7 108.1,291.6 108.2,293.2 108.4,293.5 108.5,292.0 108.7,288.5 108.9,294.0 109.0,293.2 109.2,289.1 109.3,293.0 109.5,288.5 109.6,291.4 109.8,291.6 109.9,291.0 110.1,287.1 110.2,290.4 110.4,290.6 110.5,291.0 110.7,294.3 110.9,293.0 111.0,288.6 111.2,289.8 111.3,290.0 111.5,289.6 111.6,292.5 111.8,290.5 111.9,292.7 112.1,290.4 112.2,292.8 112.4,291.4 112.5,290.2 112.7,291.6 112.8,289.9 113.0,290.2 113.2,290.4 113.3,288.7 113.5,293.4 113.6,294.7 113.8,289.9 113.9,289.3 114.1,287.6 114.2,289.6 114.4,289.5 114.5,292.3 114.7,289.6 114.8,289.3 115.0,292.5 115.2,292.2 115.3,290.9 115.5,290.3 115.6,295.1 115.8,290.6 115.9,290.3 116.1,290.9 116.2,290.2 116.4,289.9 116.5,292.2 116.7,289.9 116.8,291.0 117.0,292.0 117.1,290.2 117.3,288.2 117.5,298.5 117.6,296.8 117.8,293.0 117.9,287.3 118.1,290.8 118.2,290.4 118.4,291.5 118.5,291.7 118.7,293.4 118.8,290.0 119.0,289.8 119.1,293.2 119.3,291.8 119.4,291.3 119.6,290.1 119.8,289.7 119.9,288.3 120.1,287.9 120.2,288.3 120.4,287.1 120.5,291.7 120.7,290.8 120.8,288.1 121.0,289.2 121.1,289.8 121.3,292.8 121.4,293.7 121.6,288.6 121.8,289.0 121.9,290.3 122.1,290.2 122.2,292.1 122.4,288.6 122.5,287.8 122.7,286.8 122.8,289.1 123.0,289.4 123.1,290.7 123.3,287.1 123.4,285.3 123.6,289.7 123.7,288.3 123.9,288.4 124.1,289.4 124.2,291.4 124.4,288.9 124.5,287.4 124.7,290.4 124.8,289.4 125.0,291.0 125.1,286.1 125.3,287.2 125.4,287.8 125.6,288.2 125.7,289.0 125.9,287.7 126.0,288.0 126.2,287.8 126.4,287.4 126.5,287.1 126.7,284.1 126.8,289.3 127.0,286.7 127.1,287.9 127.3,288.6 127.4,289.7 127.6,285.5 127.7,288.1 127.9,287.7 128.0,285.9 128.2,288.1 128.4,286.5 128.5,286.6 128.7,285.4 128.8,285.1 129.0,287.8 129.1,284.7 129.3,286.7 129.4,286.3 129.6,286.9 129.7,285.0 129.9,288.2 130.0,286.0 130.2,284.8 130.3,286.9 130.5,283.6 130.7,287.9 130.8,286.2 131.0,287.2 131.1,287.3 131.3,288.0 131.4,287.2 131.6,286.5 131.7,288.0 131.9,284.7 132.0,284.3 132.2,289.4 132.3,285.3 132.5,286.2 132.6,286.0 132.8,282.5 133.0,284.8 133.1,286.0 133.3,286.2 133.4,289.2 133.6,285.3 133.7,287.4 133.9,286.1 134.0,286.2 134.2,285.1 134.3,283.6 134.5,284.5 134.6,284.6 134.8,286.7 135.0,285.7 135.1,285.3 135.3,288.3 135.4,283.6 135.6,287.3 135.7,288.1 135.9,284.1 136.0,283.6 136.2,287.3 136.3,287.1 136.5,283.6 136.6,286.2 136.8,289.0 136.9,287.4 137.1,283.6 137.3,285.4 137.4,285.3 137.6,284.6 137.7,285.0 137.9,286.7 138.0,288.4 138.2,285.7 138.3,287.7 138.5,286.3 138.6,283.9 138.8,285.5 138.9,286.2 139.1,286.2 139.2,285.3 139.4,284.5 139.6,287.9 139.7,286.0 139.9,283.1 140.0,285.2 140.2,287.2 140.3,287.1 140.5,288.8 140.6,287.2 140.8,284.1 140.9,286.3 141.1,287.3 141.2,286.9 141.4,286.2 141.6,286.2 141.7,286.5 141.9,287.0 142.0,285.1 142.2,283.9 142.3,286.9 142.5,286.5 142.6,284.3 142.8,287.6 142.9,286.8 143.1,286.2 143.2,285.5 143.4,286.0 143.5,286.7 143.7,285.2 143.9,287.0 144.0,287.7 144.2,288.0 144.3,284.5 144.5,287.6 144.6,284.8 144.8,284.5 144.9,284.3 145.1,285.5 145.2,285.9 145.4,285.1 145.5,285.9 145.7,287.4 145.8,283.5 146.0,286.2 146.2,282.8 146.3,284.1 146.5,285.7 146.6,284.2 146.8,283.4 146.9,286.5 147.1,286.0 147.2,286.1 147.4,284.6 147.5,284.2 147.7,284.7 147.8,285.5 148.0,285.3 148.2,282.6 148.3,283.2 148.5,284.4 148.6,286.1 148.8,283.7 148.9,284.1 149.1,284.1 149.2,282.3 149.4,283.4 149.5,285.5 149.7,285.5 149.8,282.0 150.0,284.0 150.1,283.2 150.3,284.4 150.5,285.4 150.6,283.8 150.8,282.3 150.9,283.7 151.1,285.4 151.2,284.4 151.4,284.6 151.5,283.8 151.7,282.8 151.8,281.7 152.0,283.7 152.1,284.4 152.3,283.8 152.5,283.9 152.6,284.4 152.8,283.8 152.9,283.8 153.1,285.2 153.2,283.2 153.4,284.2 153.5,284.9 153.7,283.2 153.8,284.3 154.0,281.7 154.1,283.1 154.3,283.6 154.4,284.5 154.6,284.1 154.8,282.7 154.9,284.4 155.1,282.7 155.2,286.8 155.4,283.2 155.5,282.6 155.7,283.1 155.8,283.5 156.0,282.3 156.1,284.4 156.3,284.5 156.4,283.3 156.6,281.5 156.7,282.9 156.9,283.6 157.1,283.0 157.2,282.8 157.4,284.7 157.5,285.6 157.7,284.4 157.8,285.5 158.0,283.9 158.1,284.5 158.3,284.2 158.4,282.7 158.6,283.0 158.7,283.2 158.9,281.3 159.1,283.6 159.2,283.6 159.4,281.7 159.5,284.2 159.7,284.8 159.8,281.6 160.0,282.6 160.1,282.3 160.3,282.3 160.4,282.0 160.6,286.2 160.7,283.0 160.9,284.1 161.0,282.7 161.2,282.6 161.4,283.3 161.5,282.1 161.7,280.8 161.8,284.0 162.0,281.9 162.1,281.3 162.3,281.6 162.4,283.6 162.6,281.4 162.7,281.7 162.9,282.8 163.0,283.0 163.2,282.4 163.3,281.2 163.5,281.7 163.7,280.6 163.8,283.0 164.0,281.9 164.1,283.0 164.3,281.7 164.4,282.4 164.6,283.1 164.7,283.9 164.9,283.3 165.0,282.1 165.2,280.9 165.3,281.6 165.5,283.7 165.7,283.1 165.8,282.4 166.0,282.6 166.1,282.3 166.3,281.6 166.4,282.2 166.6,283.2 166.7,284.4 166.9,282.8 167.0,284.2 167.2,282.6 167.3,282.1 167.5,284.4 167.6,282.6 167.8,282.8 168.0,280.4 168.1,281.9 168.3,284.4 168.4,281.9 168.6,282.0 168.7,282.6 168.9,282.8 169.0,281.5 169.2,281.7 169.3,281.9 169.5,283.4 169.6,282.6 169.8,284.0 169.9,283.9 170.1,282.9 170.3,283.9 170.4,282.7 170.6,280.1 170.7,281.8 170.9,283.2 171.0,284.2 171.2,283.1 171.3,283.7 171.5,284.2 171.6,281.5 171.8,282.7 171.9,281.8 172.1,280.0 172.3,281.8 172.4,282.1 172.6,281.8 172.7,282.4 172.9,283.0 173.0,282.3 173.2,280.9 173.3,282.5 173.5,283.5 173.6,283.4 173.8,283.1 173.9,282.0 174.1,281.5 174.2,281.5 174.4,280.8 174.6,282.2 174.7,281.1 174.9,281.6 175.0,281.2 175.2,283.8 175.3,280.6 175.5,284.1 175.6,283.5 175.8,281.0 175.9,282.2 176.1,280.0 176.2,281.5 176.4,282.8 176.6,281.6 176.7,282.1 176.9,280.1 177.0,280.0 177.2,280.9 177.3,282.2 177.5,281.5 177.6,280.5 177.8,282.4 177.9,282.4 178.1,280.7 178.2,280.8 178.4,281.8 178.5,281.8 178.7,283.5 178.9,280.3 179.0,281.7 179.2,282.9 179.3,282.6 179.5,282.4 179.6,279.0 179.8,280.7 179.9,282.8 180.1,279.5 180.2,280.0 180.4,282.4 180.5,283.4 180.7,280.4 180.8,282.2 181.0,281.4 181.2,281.8 181.3,280.0 181.5,279.8 181.6,280.4 181.8,281.4 181.9,280.9 182.1,280.6 182.2,282.8 182.4,279.4 182.5,281.5 182.7,280.9 182.8,281.0 183.0,280.2 183.2,280.0 183.3,279.1 183.5,281.4 183.6,282.0 183.8,280.9 183.9,281.7 184.1,280.2 184.2,281.8 184.4,280.9 184.5,280.0 184.7,279.9 184.8,280.7 185.0,278.9 185.1,279.6 185.3,282.6 185.5,280.5 185.6,280.6 185.8,281.3 185.9,281.5 186.1,280.8 186.2,280.4 186.4,280.5 186.5,279.4 186.7,279.8 186.8,281.4 187.0,281.5 187.1,279.9 187.3,281.4 187.4,280.5 187.6,280.2 187.8,279.6 187.9,280.1 188.1,279.2 188.2,281.1 188.4,280.0 188.5,281.3 188.7,280.4 188.8,280.5 189.0,281.9 189.1,282.6 189.3,279.6 189.4,280.2 189.6,280.4 189.8,281.5 189.9,280.9 190.1,280.0 190.2,280.5 190.4,279.4 190.5,280.4 190.7,281.4 190.8,279.9 191.0,281.2 191.1,280.3 191.3,282.4 191.4,280.9 191.6,280.0 191.7,281.2 191.9,280.6 192.1,280.0 192.2,280.6 192.4,278.1 192.5,280.9 192.7,280.8 192.8,280.8 193.0,283.4 193.1,282.2 193.3,280.1 193.4,281.1 193.6,278.7 193.7,280.8 193.9,280.9 194.0,279.7 194.2,280.3 194.4,279.1 194.5,281.8 194.7,280.3 194.8,280.1 195.0,280.0 195.1,279.6 195.3,279.7 195.4,280.7 195.6,281.3 195.7,279.8 195.9,280.7 196.0,279.8 196.2,279.5 196.4,280.6 196.5,281.7 196.7,281.1 196.8,280.0 197.0,281.0 197.1,279.6 197.3,280.8 197.4,280.7 197.6,281.4 197.7,280.9 197.9,279.3 198.0,281.2 198.2,281.2 198.3,281.6 198.5,280.1 198.7,282.4 198.8,281.5 199.0,280.0 199.1,279.5 199.3,281.1 199.4,280.0 199.6,282.9 199.7,280.2 199.9,280.7 200.0,282.2 200.2,282.7 200.3,281.7 200.5,280.7 200.6,280.5 200.8,280.9 201.0,280.3 201.1,280.0 201.3,282.4 201.4,281.6 201.6,281.6 201.7,280.1 201.9,281.7 202.0,279.7 202.2,281.0 202.3,278.4 202.5,281.2 202.6,281.1 202.8,281.2 203.0,280.9 203.1,279.2 203.3,281.8 203.4,282.0 203.6,281.4 203.7,280.5 203.9,282.1 204.0,280.4 204.2,280.1 204.3,281.3 204.5,281.3 204.6,281.7 204.8,281.3 204.9,281.6 205.1,279.0 205.3,279.1 205.4,281.0 205.6,280.6 205.7,282.3 205.9,280.9 206.0,280.0 206.2,279.8 206.3,280.0 206.5,279.3 206.6,279.9 206.8,280.4 206.9,278.3 207.1,281.6 207.2,280.8 207.4,280.4 207.6,280.3 207.7,280.2 207.9,279.6 208.0,280.0 208.2,279.3 208.3,278.6 208.5,279.1 208.6,278.9 208.8,279.9 208.9,280.0 209.1,279.1 209.2,277.9 209.4,278.3 209.6,277.6 209.7,277.6 209.9,276.9 210.0,279.2 210.2,277.1 210.3,277.5 210.5,275.6 210.6,277.8 210.8,278.1 210.9,278.7 211.1,278.4 211.2,280.3 211.4,279.0 211.5,278.9 211.7,277.6 211.9,279.6 212.0,278.9 212.2,276.7 212.3,279.7 212.5,278.5 212.6,280.1 212.8,279.5 212.9,279.1 213.1,278.7 213.2,280.3 213.4,280.7 213.5,278.4 213.7,279.7 213.9,278.9 214.0,279.2 214.2,279.4 214.3,280.4 214.5,280.4 214.6,281.8 214.8,280.2 214.9,280.9 215.1,280.6 215.2,278.9 215.4,279.8 215.5,280.7 215.7,282.1 215.8,280.2 216.0,279.6 216.2,282.2 216.3,280.8 216.5,281.7 216.6,281.4 216.8,281.8 216.9,282.9 217.1,281.9 217.2,283.0 217.4,279.7 217.5,280.6 217.7,281.6 217.8,281.4 218.0,281.6 218.1,281.6 218.3,281.6 218.5,282.1 218.6,282.0 218.8,283.2 218.9,282.9 219.1,282.6 219.2,281.9 219.4,282.5 219.5,279.7 219.7,282.5 219.8,282.6 220.0,281.9 220.1,281.4 220.3,280.7 220.5,281.2 220.6,283.0 220.8,282.7 220.9,281.6 221.1,282.4 221.2,281.9 221.4,282.8 221.5,281.3 221.7,281.5 221.8,281.3 222.0,282.6 222.1,284.2 222.3,283.9 222.4,282.3 222.6,281.9 222.8,284.4 222.9,282.9 223.1,281.3 223.2,281.5 223.4,282.8 223.5,281.7 223.7,282.2 223.8,282.4 224.0,281.1 224.1,281.1 224.3,282.5 224.4,283.2 224.6,283.2 224.7,283.2 224.9,280.7 225.1,280.1 225.2,281.6 225.4,280.8 225.5,282.3 225.7,281.7 225.8,280.8 226.0,281.3 226.1,281.5 226.3,283.0 226.4,283.3 226.6,281.8 226.7,281.8 226.9,281.4 227.1,282.0 227.2,281.5 227.4,281.1 227.5,280.7 227.7,281.1 227.8,281.7 228.0,281.5 228.1,280.4 228.3,281.4 228.4,282.4 228.6,282.1 228.7,281.0 228.9,280.7 229.0,280.1 229.2,281.5 229.4,280.0 229.5,281.5 229.7,281.4 229.8,281.7 230.0,280.7 230.1,280.3 230.3,281.2 230.4,281.7 230.6,282.6 230.7,281.1 230.9,281.5 231.0,281.4 231.2,281.8 231.3,282.0 231.5,281.6 231.7,280.8 231.8,280.4 232.0,281.2 232.1,280.9 232.3,281.4 232.4,281.3 232.6,282.4 232.7,280.4 232.9,280.7 233.0,279.9 233.2,281.8 233.3,281.1 233.5,282.4 233.7,281.0 233.8,281.3 234.0,280.6 234.1,281.4 234.3,280.6 234.4,281.7 234.6,280.5 234.7,281.5 234.9,281.6 235.0,281.1 235.2,280.9 235.3,282.5 235.5,283.1 235.6,281.1 235.8,281.3 236.0,283.0 236.1,282.7 236.3,281.9 236.4,280.9 236.6,281.0 236.7,280.3 236.9,280.2 237.0,279.4 237.2,282.5 237.3,281.3 237.5,280.3 237.6,282.3 237.8,282.5 237.9,281.0 238.1,279.9 238.3,280.1 238.4,283.4 238.6,282.3 238.7,281.3 238.9,281.9 239.0,280.9 239.2,281.1 239.3,279.7 239.5,281.3 239.6,281.1 239.8,281.1 239.9,280.2 240.1,282.2 240.3,280.7 240.4,281.9 240.6,282.5 240.7,280.2 240.9,280.7 241.0,280.0 241.2,281.0 241.3,280.4 241.5,281.1 241.6,280.7 241.8,281.6 241.9,279.7 242.1,282.0 242.2,279.1 242.4,281.4 242.6,280.1 242.7,281.0 242.9,280.8 243.0,279.3 243.2,281.1 243.3,282.0 243.5,281.0 243.6,280.6 243.8,283.0 243.9,280.0 244.1,280.2 244.2,282.8 244.4,281.3 244.6,280.5 244.7,282.2 244.9,281.7 245.0,281.6 245.2,280.7 245.3,280.2 245.5,281.2 245.6,281.1 245.8,280.4 245.9,280.5 246.1,281.3 246.2,280.0 246.4,282.9 246.5,281.1 246.7,281.6 246.9,281.6 247.0,281.0 247.2,281.2 247.3,279.5 247.5,280.4 247.6,280.9 247.8,279.7 247.9,280.3 248.1,282.8 248.2,281.1 248.4,280.3 248.5,281.7 248.7,280.9 248.8,281.6 249.0,280.9 249.2,282.6 249.3,282.9 249.5,281.7 249.6,281.0 249.8,280.0 249.9,281.4 250.1,281.9 250.2,280.4 250.4,281.2 250.5,279.6 250.7,281.3 250.8,282.9 251.0,282.2 251.2,282.0 251.3,282.4"/>
<polyline fill="none" stroke="#f8a25c" stroke-width="1.0" stroke-linejoin="round" points="38.4,414.5 38.6,392.3 38.7,411.2 38.9,374.1 39.0,355.3 39.2,344.9 39.3,344.9 39.5,329.5 39.6,334.5 39.8,329.0 39.9,329.6 40.1,338.7 40.2,333.4 40.4,318.7 40.5,324.7 40.7,304.4 40.9,300.4 41.0,298.5 41.2,310.4 41.3,294.8 41.5,314.1 41.6,311.2 41.8,301.4 41.9,296.1 42.1,314.3 42.2,314.6 42.4,292.9 42.5,305.8 42.7,288.3 42.9,294.3 43.0,294.3 43.2,294.7 43.3,289.1 43.5,296.6 43.6,287.2 43.8,298.3 43.9,332.1 44.1,328.6 44.2,284.7 44.4,292.6 44.5,297.7 44.7,283.0 44.8,296.3 45.0,292.0 45.2,288.8 45.3,282.7 45.5,291.0 45.6,286.4 45.8,288.5 45.9,304.0 46.1,285.3 46.2,284.2 46.4,289.5 46.5,288.3 46.7,294.3 46.8,294.1 47.0,289.3 47.1,285.0 47.3,291.3 47.5,286.0 47.6,283.3 47.8,285.9 47.9,284.4 48.1,281.2 48.2,290.5 48.4,280.8 48.5,292.1 48.7,282.4 48.8,284.7 49.0,286.9 49.1,288.4 49.3,285.0 49.5,285.8 49.6,284.1 49.8,286.9 49.9,282.7 50.1,287.0 50.2,284.9 50.4,285.0 50.5,280.7 50.7,287.6 50.8,284.8 51.0,280.8 51.1,285.2 51.3,286.6 51.4,282.8 51.6,284.1 51.8,281.3 51.9,285.4 52.1,282.7 52.2,281.5 52.4,280.6 52.5,285.5 52.7,279.4 52.8,284.8 53.0,290.2 53.1,284.8 53.3,281.8 53.4,283.2 53.6,281.4 53.8,281.2 53.9,281.5 54.1,282.7 54.2,278.9 54.4,286.3 54.5,285.6 54.7,293.2 54.8,284.5 55.0,285.9 55.1,283.4 55.3,283.2 55.4,285.7 55.6,279.8 55.7,278.8 55.9,278.9 56.1,282.3 56.2,281.0 56.4,283.4 56.5,280.7 56.7,282.4 56.8,280.2 57.0,281.6 57.1,278.9 57.3,279.3 57.4,278.4 57.6,283.6 57.7,283.9 57.9,279.8 58.0,281.5 58.2,279.7 58.4,340.0 58.5,339.2 58.7,277.6 58.8,279.2 59.0,279.3 59.1,281.7 59.3,277.5 59.4,279.8 59.6,278.0 59.7,279.3 59.9,277.7 60.0,279.5 60.2,279.4 60.4,279.2 60.5,280.8 60.7,280.5 60.8,279.8 61.0,279.7 61.1,281.1 61.3,276.9 61.4,280.9 61.6,279.8 61.7,276.7 61.9,280.2 62.0,277.8 62.2,278.0 62.3,279.3 62.5,281.2 62.7,281.4 62.8,278.9 63.0,278.1 63.1,281.9 63.3,278.5 63.4,279.7 63.6,277.2 63.7,278.3 63.9,279.8 64.0,279.2 64.2,278.4 64.3,276.4 64.5,280.9 64.6,277.8 64.8,278.2 65.0,277.2 65.1,278.2 65.3,277.2 65.4,277.5 65.6,278.1 65.7,279.2 65.9,277.8 66.0,276.6 66.2,277.8 66.3,275.8 66.5,276.5 66.6,278.0 66.8,275.7 67.0,279.4 67.1,276.0 67.3,275.7 67.4,278.0 67.6,277.8 67.7,276.2 67.9,275.6 68.0,275.9 68.2,277.0 68.3,276.0 68.5,276.9 68.6,278.9 68.8,277.3 68.9,277.0 69.1,279.0 69.3,276.3 69.4,277.8 69.6,275.7 69.7,278.7 69.9,277.8 70.0,278.5 70.2,274.7 70.3,274.5 70.5,274.4 70.6,274.3 70.8,274.9 70.9,274.8 71.1,278.2 71.2,275.4 71.4,276.4 71.6,276.2 71.7,277.3 71.9,273.8 72.0,275.3 72.2,277.4 72.3,273.8 72.5,275.5 72.6,278.1 72.8,275.7 72.9,277.3 73.1,277.8 73.2,277.1 73.4,273.7 73.6,274.7 73.7,274.7 73.9,278.1 74.0,275.9 74.2,275.3 74.3,274.8 74.5,276.2 74.6,276.5 74.8,277.0 74.9,280.0 75.1,282.4 75.2,284.8 75.4,288.9 75.5,291.9 75.7,296.3 75.9,301.1 76.0,306.5 76.2,308.4 76.3,306.6 76.5,305.0 76.6,303.1 76.8,304.2 76.9,301.0 77.1,298.3 77.2,297.3 77.4,295.6 77.5,294.9 77.7,293.2 77.8,291.2 78.0,290.5 78.2,288.7 78.3,287.1 78.5,285.7 78.6,283.9 78.8,283.5 78.9,284.5 79.1,283.7 79.2,283.6 79.4,282.6 79.5,283.2 79.7,282.0 79.8,281.7 80.0,281.5 80.2,281.9 80.3,281.3 80.5,281.4 80.6,280.4 80.8,279.9 80.9,280.7 81.1,280.1 81.2,279.5 81.4,279.4 81.5,278.4 81.7,279.1 81.8,278.9 82.0,280.0 82.1,278.2 82.3,278.8 82.5,278.5 82.6,278.7 82.8,279.6 82.9,279.4 83.1,279.2 83.2,278.4 83.4,278.8 83.5,278.3 83.7,278.3 83.8,278.3 84.0,278.0 84.1,278.3 84.3,279.0 84.4,278.5 84.6,277.6 84.8,278.6 84.9,277.6 85.1,277.5 85.2,278.3 85.4,277.9 85.5,278.6 85.7,277.6 85.8,278.2 86.0,278.4 86.1,278.0 86.3,278.2 86.4,278.0 86.6,277.6 86.8,277.8 86.9,278.2 87.1,277.3 87.2,277.0 87.4,277.5 87.5,277.8 87.7,278.3 87.8,277.2 88.0,277.6 88.1,277.4 88.3,278.1 88.4,277.7 88.6,278.2 88.7,276.9 88.9,277.3 89.1,277.9 89.2,277.0 89.4,276.7 89.5,276.6 89.7,277.7 89.8,276.9"/>
<line x1="325.8" y1="353.4" x2="387.6" y2="353.4" stroke="#ff6200" stroke-width="1.5"/>
<line x1="325.8" y1="374.7" x2="387.6" y2="374.7" stroke="#2a2a2a" stroke-width="1.4"/>
<text x="389.7" y="357.2" class="lg">augmented dataset</text>
<text x="390.8" y="378.9" class="lg">non-augmented dataset</text>
</svg>
</body></html>
